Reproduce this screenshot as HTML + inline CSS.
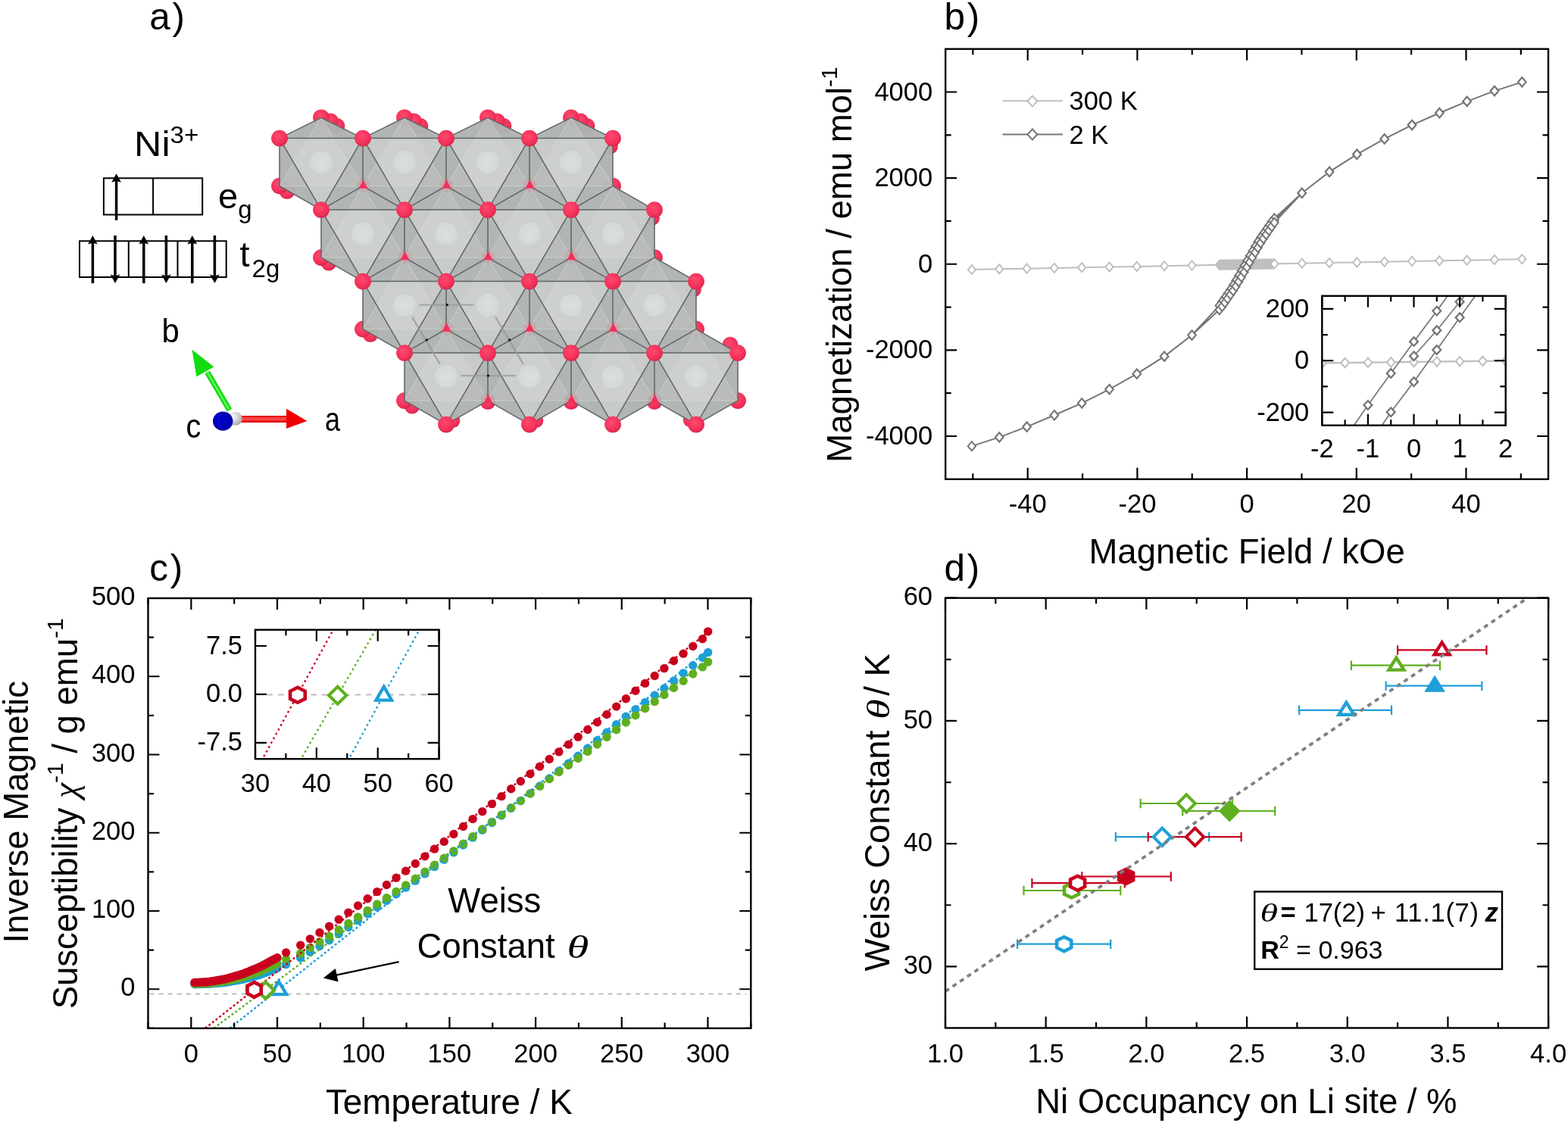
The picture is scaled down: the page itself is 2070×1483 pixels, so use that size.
<!DOCTYPE html><html><head><meta charset="utf-8"><style>html,body{margin:0;padding:0;background:#fff;}svg{display:block}</style></head><body>
<svg width="2070" height="1483" viewBox="0 0 2070 1483">
<rect width="2070" height="1483" fill="#fff"/>
<text x="197.3" y="39.2" font-size="49.5" style="font-family:'Liberation Sans',Arial,sans-serif">a<tspan dx="2.6">)</tspan></text>
<text x="1246.5" y="39.2" font-size="49.5" style="font-family:'Liberation Sans',Arial,sans-serif">b<tspan dx="2.6">)</tspan></text>
<text x="197.3" y="766.8" font-size="49.5" style="font-family:'Liberation Sans',Arial,sans-serif">c<tspan dx="2.6">)</tspan></text>
<text x="1246.5" y="766.8" font-size="49.5" style="font-family:'Liberation Sans',Arial,sans-serif">d<tspan dx="2.6">)</tspan></text>
<text transform="translate(177.1 205.8) scale(1.07 1)" font-size="47" style="font-family:'Liberation Sans',Arial,sans-serif">Ni<tspan font-size="31" dy="-17">3+</tspan></text>
<g stroke="#000" stroke-width="2" fill="none">
<rect x="136.9" y="235.3" width="130.3" height="48.2"/>
<path d="M202.1 235.3V283.5"/>
<rect x="105" y="318.3" width="193.7" height="47.7"/>
<path d="M169.8 318.3V366M234.5 318.3V366"/>
</g>
<path d="M153.6 238.8V290.8" stroke="#000" stroke-width="3.5"/>
<path d="M153.6 229.3L159.9 240.8L153.6 239L147.3 240.8Z" fill="#000"/>
<path d="M122.4 320.5V374.1" stroke="#000" stroke-width="3.5"/>
<path d="M122.4 311L128.7 322.5L122.4 320.7L116.1 322.5Z" fill="#000"/>
<path d="M189.8 320.5V374.1" stroke="#000" stroke-width="3.5"/>
<path d="M189.8 311L196.1 322.5L189.8 320.7L183.5 322.5Z" fill="#000"/>
<path d="M253.8 320.5V374.1" stroke="#000" stroke-width="3.5"/>
<path d="M253.8 311L260.1 322.5L253.8 320.7L247.5 322.5Z" fill="#000"/>
<path d="M152 364.6V311" stroke="#000" stroke-width="3.5"/>
<path d="M152 374.1L158.3 362.6L152 364.4L145.7 362.6Z" fill="#000"/>
<path d="M219.4 364.6V311" stroke="#000" stroke-width="3.5"/>
<path d="M219.4 374.1L225.7 362.6L219.4 364.4L213.1 362.6Z" fill="#000"/>
<path d="M283.4 364.6V311" stroke="#000" stroke-width="3.5"/>
<path d="M283.4 374.1L289.7 362.6L283.4 364.4L277.1 362.6Z" fill="#000"/>
<text x="288" y="275.4" font-size="47" style="font-family:'Liberation Sans',Arial,sans-serif">e<tspan font-size="33" dy="13">g</tspan></text>
<text x="316.5" y="352.3" font-size="47" style="font-family:'Liberation Sans',Arial,sans-serif">t<tspan font-size="33" dy="14" dx="3">2g</tspan></text>
<defs><linearGradient id="grG" x1="0" y1="0" x2="1" y2="0"><stop offset="0" stop-color="#10d010"/><stop offset="0.5" stop-color="#50ff50"/><stop offset="1" stop-color="#10d010"/></linearGradient><linearGradient id="grR" x1="0" y1="0" x2="0" y2="1"><stop offset="0" stop-color="#e00000"/><stop offset="0.45" stop-color="#ff5050"/><stop offset="1" stop-color="#e00000"/></linearGradient><radialGradient id="grW" cx="0.35" cy="0.35" r="0.7"><stop offset="0" stop-color="#ffffff"/><stop offset="1" stop-color="#a8a8a8"/></radialGradient><radialGradient id="grB" cx="0.4" cy="0.4" r="0.7"><stop offset="0" stop-color="#0000d0"/><stop offset="1" stop-color="#0000a0"/></radialGradient></defs>
<path d="M303 541.7L273.7 491.5" stroke="#18dd18" stroke-width="7.5"/>
<path d="M302.2 540.5L273.2 490.8" stroke="#66ff66" stroke-width="2"/>
<path d="M253.5 461.5L259.3 497.4L282.4 484.6Z" fill="#11dd11"/>
<rect x="316" y="549" width="63" height="9" fill="url(#grR)"/>
<path d="M378 539.8L405.4 556L378 565.9Z" fill="#ee0000"/>
<circle cx="310.9" cy="552.8" r="9" fill="url(#grW)"/>
<ellipse cx="294.2" cy="556.2" rx="13.2" ry="12.6" fill="url(#grB)"/>
<ellipse cx="297.5" cy="556.2" rx="9.5" ry="11.6" fill="none" stroke="#3030ff" stroke-width="0.8" opacity="0.6"/>
<text transform="translate(213.5 452.4) scale(0.93 1)" font-size="45" style="font-family:'Liberation Sans',Arial,sans-serif">b</text>
<text transform="translate(245.5 577.6) scale(0.88 1)" font-size="45" style="font-family:'Liberation Sans',Arial,sans-serif">c</text>
<text transform="translate(429 568.5) scale(0.8 1)" font-size="45" style="font-family:'Liberation Sans',Arial,sans-serif">a</text>
<defs><radialGradient id="gO" cx="0.42" cy="0.38" r="0.62"><stop offset="0" stop-color="#ff4a6e"/><stop offset="0.75" stop-color="#f2305a"/><stop offset="1" stop-color="#d8284e"/></radialGradient><radialGradient id="gNi" cx="0.5" cy="0.5" r="0.5"><stop offset="0" stop-color="#dcdfe0"/><stop offset="0.8" stop-color="#d6d9da"/><stop offset="1" stop-color="#c8cccc"/></radialGradient><radialGradient id="gPk" cx="0.5" cy="0.5" r="0.5"><stop offset="0" stop-color="#f03060" stop-opacity="0.25"/><stop offset="1" stop-color="#f03060" stop-opacity="0.08"/></radialGradient></defs>
<circle cx="445" cy="166.3" r="10.36" fill="url(#gO)" opacity="1"/>
<circle cx="436" cy="160.3" r="10.9" fill="url(#gO)" opacity="1"/>
<circle cx="555" cy="166.3" r="10.36" fill="url(#gO)" opacity="1"/>
<circle cx="546" cy="160.3" r="10.9" fill="url(#gO)" opacity="1"/>
<circle cx="665" cy="166.3" r="10.36" fill="url(#gO)" opacity="1"/>
<circle cx="656" cy="160.3" r="10.9" fill="url(#gO)" opacity="1"/>
<circle cx="775" cy="166.3" r="10.36" fill="url(#gO)" opacity="1"/>
<circle cx="766" cy="160.3" r="10.9" fill="url(#gO)" opacity="1"/>
<circle cx="379" cy="252.6" r="10.36" fill="url(#gO)" opacity="1"/>
<circle cx="434" cy="347.1" r="10.36" fill="url(#gO)" opacity="1"/>
<circle cx="489" cy="441.6" r="10.36" fill="url(#gO)" opacity="1"/>
<circle cx="544" cy="536.1" r="10.36" fill="url(#gO)" opacity="1"/>
<circle cx="806" cy="193.6" r="9.81" fill="url(#gO)" opacity="1"/>
<circle cx="861" cy="288.1" r="9.81" fill="url(#gO)" opacity="1"/>
<circle cx="916" cy="382.6" r="9.81" fill="url(#gO)" opacity="1"/>
<circle cx="964" cy="455.1" r="10.36" fill="url(#gO)" opacity="1"/>
<circle cx="598" cy="555.6" r="9.27" fill="url(#gO)" opacity="1"/>
<circle cx="708" cy="555.6" r="9.27" fill="url(#gO)" opacity="1"/>
<circle cx="911" cy="554.6" r="9.27" fill="url(#gO)" opacity="1"/>
<circle cx="644" cy="530.6" r="10.36" fill="url(#gO)" opacity="1"/>
<circle cx="754" cy="530.6" r="10.36" fill="url(#gO)" opacity="1"/>
<circle cx="864" cy="530.6" r="10.36" fill="url(#gO)" opacity="1"/>
<circle cx="424" cy="155.3" r="10.9" fill="url(#gO)" opacity="1"/>
<circle cx="534" cy="155.3" r="10.9" fill="url(#gO)" opacity="1"/>
<circle cx="644" cy="155.3" r="10.9" fill="url(#gO)" opacity="1"/>
<circle cx="754" cy="155.3" r="10.9" fill="url(#gO)" opacity="1"/>
<circle cx="369" cy="245.6" r="10.9" fill="url(#gO)" opacity="1"/>
<circle cx="809" cy="245.6" r="10.9" fill="url(#gO)" opacity="1"/>
<circle cx="424" cy="340.1" r="10.9" fill="url(#gO)" opacity="1"/>
<circle cx="864" cy="340.1" r="10.9" fill="url(#gO)" opacity="1"/>
<circle cx="479" cy="434.6" r="10.9" fill="url(#gO)" opacity="1"/>
<circle cx="919" cy="434.6" r="10.9" fill="url(#gO)" opacity="1"/>
<circle cx="534" cy="529.1" r="10.9" fill="url(#gO)" opacity="1"/>
<circle cx="974" cy="529.1" r="10.9" fill="url(#gO)" opacity="1"/>
<g>
<polygon points="424,155.3 479,182.6 479,245.6 424,277.1 369,245.6 369,182.6" fill="#aeb3b1" fill-opacity="0.97"/>
<polygon points="534,155.3 589,182.6 589,245.6 534,277.1 479,245.6 479,182.6" fill="#aeb3b1" fill-opacity="0.97"/>
<polygon points="644,155.3 699,182.6 699,245.6 644,277.1 589,245.6 589,182.6" fill="#aeb3b1" fill-opacity="0.97"/>
<polygon points="754,155.3 809,182.6 809,245.6 754,277.1 699,245.6 699,182.6" fill="#aeb3b1" fill-opacity="0.97"/>
<polygon points="479,245.6 534,277.1 534,340.1 479,371.6 424,340.1 424,277.1" fill="#aeb3b1" fill-opacity="0.97"/>
<polygon points="589,245.6 644,277.1 644,340.1 589,371.6 534,340.1 534,277.1" fill="#aeb3b1" fill-opacity="0.97"/>
<polygon points="699,245.6 754,277.1 754,340.1 699,371.6 644,340.1 644,277.1" fill="#aeb3b1" fill-opacity="0.97"/>
<polygon points="809,245.6 864,277.1 864,340.1 809,371.6 754,340.1 754,277.1" fill="#aeb3b1" fill-opacity="0.97"/>
<polygon points="534,340.1 589,371.6 589,434.6 534,466.1 479,434.6 479,371.6" fill="#aeb3b1" fill-opacity="0.97"/>
<polygon points="644,340.1 699,371.6 699,434.6 644,466.1 589,434.6 589,371.6" fill="#aeb3b1" fill-opacity="0.97"/>
<polygon points="754,340.1 809,371.6 809,434.6 754,466.1 699,434.6 699,371.6" fill="#aeb3b1" fill-opacity="0.97"/>
<polygon points="864,340.1 919,371.6 919,434.6 864,466.1 809,434.6 809,371.6" fill="#aeb3b1" fill-opacity="0.97"/>
<polygon points="589,434.6 644,466.1 644,529.1 589,560.6 534,529.1 534,466.1" fill="#aeb3b1" fill-opacity="0.97"/>
<polygon points="699,434.6 754,466.1 754,529.1 699,560.6 644,529.1 644,466.1" fill="#aeb3b1" fill-opacity="0.97"/>
<polygon points="809,434.6 864,466.1 864,529.1 809,560.6 754,529.1 754,466.1" fill="#aeb3b1" fill-opacity="0.97"/>
<polygon points="919,434.6 974,466.1 974,529.1 919,560.6 864,529.1 864,466.1" fill="#aeb3b1" fill-opacity="0.97"/>
</g>
<polygon points="424,155.3 369,245.6 479,245.6" fill="#ffffff" fill-opacity="0.10"/>
<polygon points="534,155.3 479,245.6 589,245.6" fill="#ffffff" fill-opacity="0.10"/>
<polygon points="644,155.3 589,245.6 699,245.6" fill="#ffffff" fill-opacity="0.10"/>
<polygon points="754,155.3 699,245.6 809,245.6" fill="#ffffff" fill-opacity="0.10"/>
<polygon points="479,245.6 424,340.1 534,340.1" fill="#ffffff" fill-opacity="0.10"/>
<polygon points="589,245.6 534,340.1 644,340.1" fill="#ffffff" fill-opacity="0.10"/>
<polygon points="699,245.6 644,340.1 754,340.1" fill="#ffffff" fill-opacity="0.10"/>
<polygon points="809,245.6 754,340.1 864,340.1" fill="#ffffff" fill-opacity="0.10"/>
<polygon points="534,340.1 479,434.6 589,434.6" fill="#ffffff" fill-opacity="0.10"/>
<polygon points="644,340.1 589,434.6 699,434.6" fill="#ffffff" fill-opacity="0.10"/>
<polygon points="754,340.1 699,434.6 809,434.6" fill="#ffffff" fill-opacity="0.10"/>
<polygon points="864,340.1 809,434.6 919,434.6" fill="#ffffff" fill-opacity="0.10"/>
<polygon points="589,434.6 534,529.1 644,529.1" fill="#ffffff" fill-opacity="0.10"/>
<polygon points="699,434.6 644,529.1 754,529.1" fill="#ffffff" fill-opacity="0.10"/>
<polygon points="809,434.6 754,529.1 864,529.1" fill="#ffffff" fill-opacity="0.10"/>
<polygon points="919,434.6 864,529.1 974,529.1" fill="#ffffff" fill-opacity="0.10"/>
<polygon points="369,182.6 479,182.6 424,277.1" fill="#ffffff" fill-opacity="0.30"/>
<polygon points="479,182.6 589,182.6 534,277.1" fill="#ffffff" fill-opacity="0.30"/>
<polygon points="589,182.6 699,182.6 644,277.1" fill="#ffffff" fill-opacity="0.30"/>
<polygon points="699,182.6 809,182.6 754,277.1" fill="#ffffff" fill-opacity="0.30"/>
<polygon points="424,277.1 534,277.1 479,371.6" fill="#ffffff" fill-opacity="0.30"/>
<polygon points="534,277.1 644,277.1 589,371.6" fill="#ffffff" fill-opacity="0.30"/>
<polygon points="644,277.1 754,277.1 699,371.6" fill="#ffffff" fill-opacity="0.30"/>
<polygon points="754,277.1 864,277.1 809,371.6" fill="#ffffff" fill-opacity="0.30"/>
<polygon points="479,371.6 589,371.6 534,466.1" fill="#ffffff" fill-opacity="0.30"/>
<polygon points="589,371.6 699,371.6 644,466.1" fill="#ffffff" fill-opacity="0.30"/>
<polygon points="699,371.6 809,371.6 754,466.1" fill="#ffffff" fill-opacity="0.30"/>
<polygon points="809,371.6 919,371.6 864,466.1" fill="#ffffff" fill-opacity="0.30"/>
<polygon points="534,466.1 644,466.1 589,560.6" fill="#ffffff" fill-opacity="0.30"/>
<polygon points="644,466.1 754,466.1 699,560.6" fill="#ffffff" fill-opacity="0.30"/>
<polygon points="754,466.1 864,466.1 809,560.6" fill="#ffffff" fill-opacity="0.30"/>
<polygon points="864,466.1 974,466.1 919,560.6" fill="#ffffff" fill-opacity="0.30"/>
<circle cx="424" cy="214.1" r="17" fill="url(#gNi)"/>
<circle cx="534" cy="214.1" r="17" fill="url(#gNi)"/>
<circle cx="644" cy="214.1" r="17" fill="url(#gNi)"/>
<circle cx="754" cy="214.1" r="17" fill="url(#gNi)"/>
<circle cx="479" cy="308.6" r="17" fill="url(#gNi)"/>
<circle cx="589" cy="308.6" r="17" fill="url(#gNi)"/>
<circle cx="699" cy="308.6" r="17" fill="url(#gNi)"/>
<circle cx="809" cy="308.6" r="17" fill="url(#gNi)"/>
<circle cx="534" cy="403.1" r="17" fill="url(#gNi)"/>
<circle cx="644" cy="403.1" r="17" fill="url(#gNi)"/>
<circle cx="754" cy="403.1" r="17" fill="url(#gNi)"/>
<circle cx="864" cy="403.1" r="17" fill="url(#gNi)"/>
<circle cx="589" cy="497.6" r="17" fill="url(#gNi)"/>
<circle cx="699" cy="497.6" r="17" fill="url(#gNi)"/>
<circle cx="809" cy="497.6" r="17" fill="url(#gNi)"/>
<circle cx="919" cy="497.6" r="17" fill="url(#gNi)"/>
<path d="M424 155.3L369 245.6L479 245.6ZM534 155.3L479 245.6L589 245.6ZM644 155.3L589 245.6L699 245.6ZM754 155.3L699 245.6L809 245.6ZM479 245.6L424 340.1L534 340.1ZM589 245.6L534 340.1L644 340.1ZM699 245.6L644 340.1L754 340.1ZM809 245.6L754 340.1L864 340.1ZM534 340.1L479 434.6L589 434.6ZM644 340.1L589 434.6L699 434.6ZM754 340.1L699 434.6L809 434.6ZM864 340.1L809 434.6L919 434.6ZM589 434.6L534 529.1L644 529.1ZM699 434.6L644 529.1L754 529.1ZM809 434.6L754 529.1L864 529.1ZM919 434.6L864 529.1L974 529.1Z" fill="none" stroke="#d2dad5" stroke-width="1.2" stroke-opacity="0.55"/>
<path d="M424 155.3L479 182.6L479 245.6L424 277.1L369 245.6L369 182.6ZM369 182.6L479 182.6L424 277.1ZM534 155.3L589 182.6L589 245.6L534 277.1L479 245.6L479 182.6ZM479 182.6L589 182.6L534 277.1ZM644 155.3L699 182.6L699 245.6L644 277.1L589 245.6L589 182.6ZM589 182.6L699 182.6L644 277.1ZM754 155.3L809 182.6L809 245.6L754 277.1L699 245.6L699 182.6ZM699 182.6L809 182.6L754 277.1ZM479 245.6L534 277.1L534 340.1L479 371.6L424 340.1L424 277.1ZM424 277.1L534 277.1L479 371.6ZM589 245.6L644 277.1L644 340.1L589 371.6L534 340.1L534 277.1ZM534 277.1L644 277.1L589 371.6ZM699 245.6L754 277.1L754 340.1L699 371.6L644 340.1L644 277.1ZM644 277.1L754 277.1L699 371.6ZM809 245.6L864 277.1L864 340.1L809 371.6L754 340.1L754 277.1ZM754 277.1L864 277.1L809 371.6ZM534 340.1L589 371.6L589 434.6L534 466.1L479 434.6L479 371.6ZM479 371.6L589 371.6L534 466.1ZM644 340.1L699 371.6L699 434.6L644 466.1L589 434.6L589 371.6ZM589 371.6L699 371.6L644 466.1ZM754 340.1L809 371.6L809 434.6L754 466.1L699 434.6L699 371.6ZM699 371.6L809 371.6L754 466.1ZM864 340.1L919 371.6L919 434.6L864 466.1L809 434.6L809 371.6ZM809 371.6L919 371.6L864 466.1ZM589 434.6L644 466.1L644 529.1L589 560.6L534 529.1L534 466.1ZM534 466.1L644 466.1L589 560.6ZM699 434.6L754 466.1L754 529.1L699 560.6L644 529.1L644 466.1ZM644 466.1L754 466.1L699 560.6ZM809 434.6L864 466.1L864 529.1L809 560.6L754 529.1L754 466.1ZM754 466.1L864 466.1L809 560.6ZM919 434.6L974 466.1L974 529.1L919 560.6L864 529.1L864 466.1ZM864 466.1L974 466.1L919 560.6Z" fill="none" stroke="#5f6464" stroke-width="1.5" stroke-linejoin="round"/>
<circle cx="479.5" cy="244.6" r="9.6" fill="url(#gPk)"/>
<path d="M479.5 237.6L485.3 248.8L473.7 248.8Z" fill="#f3305a"/>
<circle cx="534.5" cy="339.1" r="9.6" fill="url(#gPk)"/>
<path d="M534.5 332.1L540.3 343.3L528.7 343.3Z" fill="#f3305a"/>
<circle cx="589.5" cy="244.6" r="9.6" fill="url(#gPk)"/>
<path d="M589.5 237.6L595.3 248.8L583.7 248.8Z" fill="#f3305a"/>
<circle cx="589.5" cy="433.6" r="9.6" fill="url(#gPk)"/>
<path d="M589.5 426.6L595.3 437.8L583.7 437.8Z" fill="#f3305a"/>
<circle cx="644.5" cy="339.1" r="9.6" fill="url(#gPk)"/>
<path d="M644.5 332.1L650.3 343.3L638.7 343.3Z" fill="#f3305a"/>
<circle cx="644.5" cy="528.1" r="9.6" fill="url(#gPk)"/>
<path d="M644.5 521.1L650.3 532.3L638.7 532.3Z" fill="#f3305a"/>
<circle cx="699.5" cy="244.6" r="9.6" fill="url(#gPk)"/>
<path d="M699.5 237.6L705.3 248.8L693.7 248.8Z" fill="#f3305a"/>
<circle cx="699.5" cy="433.6" r="9.6" fill="url(#gPk)"/>
<path d="M699.5 426.6L705.3 437.8L693.7 437.8Z" fill="#f3305a"/>
<circle cx="754.5" cy="339.1" r="9.6" fill="url(#gPk)"/>
<path d="M754.5 332.1L760.3 343.3L748.7 343.3Z" fill="#f3305a"/>
<circle cx="754.5" cy="528.1" r="9.6" fill="url(#gPk)"/>
<path d="M754.5 521.1L760.3 532.3L748.7 532.3Z" fill="#f3305a"/>
<circle cx="809.5" cy="433.6" r="9.6" fill="url(#gPk)"/>
<path d="M809.5 426.6L815.3 437.8L803.7 437.8Z" fill="#f3305a"/>
<circle cx="864.5" cy="528.1" r="9.6" fill="url(#gPk)"/>
<path d="M864.5 521.1L870.3 532.3L858.7 532.3Z" fill="#f3305a"/>
<g stroke="#999" stroke-width="2.4" stroke-opacity="0.75">
<path d="M553.6 402.6H625.4M544.1 418.6L580.7 480.8M654.1 418.6L690.8 480.8M608.8 496.1H680.6"/>
</g>
<circle cx="590.3" cy="402.6" r="1.6" fill="#000"/>
<circle cx="563.2" cy="448.9" r="1.6" fill="#000"/>
<circle cx="672.6" cy="448.9" r="1.6" fill="#000"/>
<circle cx="644.5" cy="496.1" r="1.6" fill="#000"/>
<circle cx="369" cy="182.6" r="10.9" fill="url(#gO)" opacity="1"/>
<circle cx="479" cy="182.6" r="10.9" fill="url(#gO)" opacity="1"/>
<circle cx="589" cy="182.6" r="10.9" fill="url(#gO)" opacity="1"/>
<circle cx="699" cy="182.6" r="10.9" fill="url(#gO)" opacity="1"/>
<circle cx="809" cy="182.6" r="10.9" fill="url(#gO)" opacity="1"/>
<circle cx="424" cy="277.1" r="10.9" fill="url(#gO)" opacity="1"/>
<circle cx="534" cy="277.1" r="10.9" fill="url(#gO)" opacity="1"/>
<circle cx="644" cy="277.1" r="10.9" fill="url(#gO)" opacity="1"/>
<circle cx="754" cy="277.1" r="10.9" fill="url(#gO)" opacity="1"/>
<circle cx="864" cy="277.1" r="10.9" fill="url(#gO)" opacity="1"/>
<circle cx="479" cy="371.6" r="10.9" fill="url(#gO)" opacity="1"/>
<circle cx="589" cy="371.6" r="10.9" fill="url(#gO)" opacity="1"/>
<circle cx="699" cy="371.6" r="10.9" fill="url(#gO)" opacity="1"/>
<circle cx="809" cy="371.6" r="10.9" fill="url(#gO)" opacity="1"/>
<circle cx="919" cy="371.6" r="10.9" fill="url(#gO)" opacity="1"/>
<circle cx="534" cy="466.1" r="10.9" fill="url(#gO)" opacity="1"/>
<circle cx="644" cy="466.1" r="10.9" fill="url(#gO)" opacity="1"/>
<circle cx="754" cy="466.1" r="10.9" fill="url(#gO)" opacity="1"/>
<circle cx="864" cy="466.1" r="10.9" fill="url(#gO)" opacity="1"/>
<circle cx="974" cy="466.1" r="10.9" fill="url(#gO)" opacity="1"/>
<circle cx="589" cy="560.6" r="10.9" fill="url(#gO)" opacity="1"/>
<circle cx="699" cy="560.6" r="10.9" fill="url(#gO)" opacity="1"/>
<circle cx="809" cy="560.6" r="10.9" fill="url(#gO)" opacity="1"/>
<circle cx="919" cy="560.6" r="10.9" fill="url(#gO)" opacity="1"/>
<g>
<path d="M1282.93 356.02 L1319.24 355.33 L1355.56 354.65 L1391.88 353.96 L1428.2 353.27 L1464.51 352.58 L1500.83 351.9 L1537.15 351.21 L1573.47 350.52 L1609.78 349.84 L1611.6 349.8 L1613.41 349.77 L1615.23 349.73 L1617.05 349.7 L1618.86 349.66 L1620.68 349.63 L1622.49 349.59 L1624.31 349.56 L1626.13 349.53 L1627.94 349.49 L1629.76 349.46 L1631.57 349.42 L1633.39 349.39 L1635.2 349.35 L1637.02 349.32 L1638.84 349.29 L1640.65 349.25 L1642.47 349.22 L1644.28 349.18 L1646.1 349.15 L1647.92 349.11 L1649.73 349.08 L1651.55 349.04 L1653.36 349.01 L1655.18 348.98 L1657 348.94 L1658.81 348.91 L1660.63 348.87 L1662.44 348.84 L1664.26 348.8 L1666.07 348.77 L1667.89 348.74 L1669.71 348.7 L1671.52 348.67 L1673.34 348.63 L1675.15 348.6 L1676.97 348.56 L1678.79 348.53 L1680.6 348.49 L1682.42 348.46 L1718.73 347.77 L1755.05 347.09 L1791.37 346.4 L1827.69 345.71 L1864 345.02 L1900.32 344.34 L1936.64 343.65 L1972.96 342.96 L2009.27 342.27" fill="none" stroke="#bebebe" stroke-width="2" stroke-linejoin="round"/>
<path d="M1282.93 349.92L1288.03 356.02L1282.93 362.12L1277.83 356.02Z" fill="#fff" stroke="#bebebe" stroke-width="1.9" stroke-linejoin="miter"/>
<path d="M1319.24 349.23L1324.34 355.33L1319.24 361.43L1314.14 355.33Z" fill="#fff" stroke="#bebebe" stroke-width="1.9" stroke-linejoin="miter"/>
<path d="M1355.56 348.55L1360.66 354.65L1355.56 360.75L1350.46 354.65Z" fill="#fff" stroke="#bebebe" stroke-width="1.9" stroke-linejoin="miter"/>
<path d="M1391.88 347.86L1396.98 353.96L1391.88 360.06L1386.78 353.96Z" fill="#fff" stroke="#bebebe" stroke-width="1.9" stroke-linejoin="miter"/>
<path d="M1428.2 347.17L1433.3 353.27L1428.2 359.37L1423.1 353.27Z" fill="#fff" stroke="#bebebe" stroke-width="1.9" stroke-linejoin="miter"/>
<path d="M1464.51 346.48L1469.61 352.58L1464.51 358.68L1459.41 352.58Z" fill="#fff" stroke="#bebebe" stroke-width="1.9" stroke-linejoin="miter"/>
<path d="M1500.83 345.8L1505.93 351.9L1500.83 358L1495.73 351.9Z" fill="#fff" stroke="#bebebe" stroke-width="1.9" stroke-linejoin="miter"/>
<path d="M1537.15 345.11L1542.25 351.21L1537.15 357.31L1532.05 351.21Z" fill="#fff" stroke="#bebebe" stroke-width="1.9" stroke-linejoin="miter"/>
<path d="M1573.47 344.42L1578.57 350.52L1573.47 356.62L1568.37 350.52Z" fill="#fff" stroke="#bebebe" stroke-width="1.9" stroke-linejoin="miter"/>
<path d="M1609.78 343.74L1614.88 349.84L1609.78 355.94L1604.68 349.84Z" fill="#fff" stroke="#bebebe" stroke-width="1.9" stroke-linejoin="miter"/>
<path d="M1611.6 343.7L1616.7 349.8L1611.6 355.9L1606.5 349.8Z" fill="#fff" stroke="#bebebe" stroke-width="1.9" stroke-linejoin="miter"/>
<path d="M1613.41 343.67L1618.51 349.77L1613.41 355.87L1608.31 349.77Z" fill="#fff" stroke="#bebebe" stroke-width="1.9" stroke-linejoin="miter"/>
<path d="M1615.23 343.63L1620.33 349.73L1615.23 355.83L1610.13 349.73Z" fill="#fff" stroke="#bebebe" stroke-width="1.9" stroke-linejoin="miter"/>
<path d="M1617.05 343.6L1622.15 349.7L1617.05 355.8L1611.95 349.7Z" fill="#fff" stroke="#bebebe" stroke-width="1.9" stroke-linejoin="miter"/>
<path d="M1618.86 343.56L1623.96 349.66L1618.86 355.76L1613.76 349.66Z" fill="#fff" stroke="#bebebe" stroke-width="1.9" stroke-linejoin="miter"/>
<path d="M1620.68 343.53L1625.78 349.63L1620.68 355.73L1615.58 349.63Z" fill="#fff" stroke="#bebebe" stroke-width="1.9" stroke-linejoin="miter"/>
<path d="M1622.49 343.49L1627.59 349.59L1622.49 355.69L1617.39 349.59Z" fill="#fff" stroke="#bebebe" stroke-width="1.9" stroke-linejoin="miter"/>
<path d="M1624.31 343.46L1629.41 349.56L1624.31 355.66L1619.21 349.56Z" fill="#fff" stroke="#bebebe" stroke-width="1.9" stroke-linejoin="miter"/>
<path d="M1626.13 343.43L1631.23 349.53L1626.13 355.63L1621.03 349.53Z" fill="#fff" stroke="#bebebe" stroke-width="1.9" stroke-linejoin="miter"/>
<path d="M1627.94 343.39L1633.04 349.49L1627.94 355.59L1622.84 349.49Z" fill="#fff" stroke="#bebebe" stroke-width="1.9" stroke-linejoin="miter"/>
<path d="M1629.76 343.36L1634.86 349.46L1629.76 355.56L1624.66 349.46Z" fill="#fff" stroke="#bebebe" stroke-width="1.9" stroke-linejoin="miter"/>
<path d="M1631.57 343.32L1636.67 349.42L1631.57 355.52L1626.47 349.42Z" fill="#fff" stroke="#bebebe" stroke-width="1.9" stroke-linejoin="miter"/>
<path d="M1633.39 343.29L1638.49 349.39L1633.39 355.49L1628.29 349.39Z" fill="#fff" stroke="#bebebe" stroke-width="1.9" stroke-linejoin="miter"/>
<path d="M1635.2 343.25L1640.3 349.35L1635.2 355.45L1630.1 349.35Z" fill="#fff" stroke="#bebebe" stroke-width="1.9" stroke-linejoin="miter"/>
<path d="M1637.02 343.22L1642.12 349.32L1637.02 355.42L1631.92 349.32Z" fill="#fff" stroke="#bebebe" stroke-width="1.9" stroke-linejoin="miter"/>
<path d="M1638.84 343.19L1643.94 349.29L1638.84 355.39L1633.74 349.29Z" fill="#fff" stroke="#bebebe" stroke-width="1.9" stroke-linejoin="miter"/>
<path d="M1640.65 343.15L1645.75 349.25L1640.65 355.35L1635.55 349.25Z" fill="#fff" stroke="#bebebe" stroke-width="1.9" stroke-linejoin="miter"/>
<path d="M1642.47 343.12L1647.57 349.22L1642.47 355.32L1637.37 349.22Z" fill="#fff" stroke="#bebebe" stroke-width="1.9" stroke-linejoin="miter"/>
<path d="M1644.28 343.08L1649.38 349.18L1644.28 355.28L1639.18 349.18Z" fill="#fff" stroke="#bebebe" stroke-width="1.9" stroke-linejoin="miter"/>
<path d="M1646.1 343.05L1651.2 349.15L1646.1 355.25L1641 349.15Z" fill="#fff" stroke="#bebebe" stroke-width="1.9" stroke-linejoin="miter"/>
<path d="M1647.92 343.01L1653.02 349.11L1647.92 355.21L1642.82 349.11Z" fill="#fff" stroke="#bebebe" stroke-width="1.9" stroke-linejoin="miter"/>
<path d="M1649.73 342.98L1654.83 349.08L1649.73 355.18L1644.63 349.08Z" fill="#fff" stroke="#bebebe" stroke-width="1.9" stroke-linejoin="miter"/>
<path d="M1651.55 342.94L1656.65 349.04L1651.55 355.14L1646.45 349.04Z" fill="#fff" stroke="#bebebe" stroke-width="1.9" stroke-linejoin="miter"/>
<path d="M1653.36 342.91L1658.46 349.01L1653.36 355.11L1648.26 349.01Z" fill="#fff" stroke="#bebebe" stroke-width="1.9" stroke-linejoin="miter"/>
<path d="M1655.18 342.88L1660.28 348.98L1655.18 355.08L1650.08 348.98Z" fill="#fff" stroke="#bebebe" stroke-width="1.9" stroke-linejoin="miter"/>
<path d="M1657 342.84L1662.1 348.94L1657 355.04L1651.9 348.94Z" fill="#fff" stroke="#bebebe" stroke-width="1.9" stroke-linejoin="miter"/>
<path d="M1658.81 342.81L1663.91 348.91L1658.81 355.01L1653.71 348.91Z" fill="#fff" stroke="#bebebe" stroke-width="1.9" stroke-linejoin="miter"/>
<path d="M1660.63 342.77L1665.73 348.87L1660.63 354.97L1655.53 348.87Z" fill="#fff" stroke="#bebebe" stroke-width="1.9" stroke-linejoin="miter"/>
<path d="M1662.44 342.74L1667.54 348.84L1662.44 354.94L1657.34 348.84Z" fill="#fff" stroke="#bebebe" stroke-width="1.9" stroke-linejoin="miter"/>
<path d="M1664.26 342.7L1669.36 348.8L1664.26 354.9L1659.16 348.8Z" fill="#fff" stroke="#bebebe" stroke-width="1.9" stroke-linejoin="miter"/>
<path d="M1666.07 342.67L1671.17 348.77L1666.07 354.87L1660.97 348.77Z" fill="#fff" stroke="#bebebe" stroke-width="1.9" stroke-linejoin="miter"/>
<path d="M1667.89 342.64L1672.99 348.74L1667.89 354.84L1662.79 348.74Z" fill="#fff" stroke="#bebebe" stroke-width="1.9" stroke-linejoin="miter"/>
<path d="M1669.71 342.6L1674.81 348.7L1669.71 354.8L1664.61 348.7Z" fill="#fff" stroke="#bebebe" stroke-width="1.9" stroke-linejoin="miter"/>
<path d="M1671.52 342.57L1676.62 348.67L1671.52 354.77L1666.42 348.67Z" fill="#fff" stroke="#bebebe" stroke-width="1.9" stroke-linejoin="miter"/>
<path d="M1673.34 342.53L1678.44 348.63L1673.34 354.73L1668.24 348.63Z" fill="#fff" stroke="#bebebe" stroke-width="1.9" stroke-linejoin="miter"/>
<path d="M1675.15 342.5L1680.25 348.6L1675.15 354.7L1670.05 348.6Z" fill="#fff" stroke="#bebebe" stroke-width="1.9" stroke-linejoin="miter"/>
<path d="M1676.97 342.46L1682.07 348.56L1676.97 354.66L1671.87 348.56Z" fill="#fff" stroke="#bebebe" stroke-width="1.9" stroke-linejoin="miter"/>
<path d="M1678.79 342.43L1683.89 348.53L1678.79 354.63L1673.69 348.53Z" fill="#fff" stroke="#bebebe" stroke-width="1.9" stroke-linejoin="miter"/>
<path d="M1680.6 342.39L1685.7 348.49L1680.6 354.59L1675.5 348.49Z" fill="#fff" stroke="#bebebe" stroke-width="1.9" stroke-linejoin="miter"/>
<path d="M1682.42 342.36L1687.52 348.46L1682.42 354.56L1677.32 348.46Z" fill="#fff" stroke="#bebebe" stroke-width="1.9" stroke-linejoin="miter"/>
<path d="M1718.73 341.67L1723.83 347.77L1718.73 353.87L1713.63 347.77Z" fill="#fff" stroke="#bebebe" stroke-width="1.9" stroke-linejoin="miter"/>
<path d="M1755.05 340.99L1760.15 347.09L1755.05 353.19L1749.95 347.09Z" fill="#fff" stroke="#bebebe" stroke-width="1.9" stroke-linejoin="miter"/>
<path d="M1791.37 340.3L1796.47 346.4L1791.37 352.5L1786.27 346.4Z" fill="#fff" stroke="#bebebe" stroke-width="1.9" stroke-linejoin="miter"/>
<path d="M1827.69 339.61L1832.79 345.71L1827.69 351.81L1822.59 345.71Z" fill="#fff" stroke="#bebebe" stroke-width="1.9" stroke-linejoin="miter"/>
<path d="M1864 338.92L1869.1 345.02L1864 351.12L1858.9 345.02Z" fill="#fff" stroke="#bebebe" stroke-width="1.9" stroke-linejoin="miter"/>
<path d="M1900.32 338.24L1905.42 344.34L1900.32 350.44L1895.22 344.34Z" fill="#fff" stroke="#bebebe" stroke-width="1.9" stroke-linejoin="miter"/>
<path d="M1936.64 337.55L1941.74 343.65L1936.64 349.75L1931.54 343.65Z" fill="#fff" stroke="#bebebe" stroke-width="1.9" stroke-linejoin="miter"/>
<path d="M1972.96 336.86L1978.06 342.96L1972.96 349.06L1967.86 342.96Z" fill="#fff" stroke="#bebebe" stroke-width="1.9" stroke-linejoin="miter"/>
<path d="M2009.27 336.17L2014.37 342.27L2009.27 348.37L2004.17 342.27Z" fill="#fff" stroke="#bebebe" stroke-width="1.9" stroke-linejoin="miter"/>
</g>
<g>
<path d="M1646.1 347.9 L1649.73 341.67 L1653.36 335.35 L1657 329.32 L1660.63 323.2 L1664.26 317.01 L1667.89 311.69 L1671.52 306.44 L1675.15 301.19 L1678.79 295.94 L1682.42 290.69 L1718.73 254.96 L1755.05 226.84 L1791.37 203.83 L1827.69 183.43 L1864 165.08 L1900.32 149.23 L1936.64 133.89 L1972.96 120.09 L2009.27 108.33 L1972.96 120.09 L1936.64 133.89 L1900.32 149.23 L1864 165.08 L1827.69 183.43 L1791.37 203.83 L1755.05 226.84 L1718.73 254.96 L1682.42 288.47 L1678.79 292.68 L1675.15 297.93 L1671.52 303.18 L1667.89 308.43 L1664.26 313.68 L1660.63 319.3 L1657 325.51 L1653.36 331.72 L1649.73 338.07 L1646.1 344.66 L1642.47 351.25 L1638.84 357.84 L1635.2 364.29 L1631.57 370.5 L1627.94 376.71 L1624.31 382.56 L1620.68 387.81 L1617.05 393.06 L1613.41 398.31 L1609.78 403.56 L1573.47 442.54 L1537.15 470.66 L1500.83 493.67 L1464.51 514.07 L1428.2 532.42 L1391.88 548.27 L1355.56 563.61 L1319.24 577.41 L1282.93 589.17 L1319.24 577.41 L1355.56 563.61 L1391.88 548.27 L1428.2 532.42 L1464.51 514.07 L1500.83 493.67 L1537.15 470.66 L1573.47 442.54 L1609.78 409.03 L1613.41 404.82 L1617.05 399.57 L1620.68 394.32 L1624.31 389.07 L1627.94 383.82 L1631.57 378.2 L1635.2 371.99 L1638.84 365.78 L1642.47 359.43 L1646.1 352.84 L1649.73 346.25 L1653.36 339.66 L1657 333.21 L1660.63 327 L1664.26 320.79 L1667.89 314.94 L1671.52 309.69 L1675.15 304.44 L1678.79 299.19 L1682.42 293.94 L1718.73 254.96 L1755.05 226.84 L1791.37 203.83 L1827.69 183.43 L1864 165.08 L1900.32 149.23 L1936.64 133.89 L1972.96 120.09 L2009.27 108.33" fill="none" stroke="#767676" stroke-width="2" stroke-linejoin="round"/>
<path d="M1646.1 341.8L1651.3 347.9L1646.1 354L1640.9 347.9Z" fill="#fff" stroke="#767676" stroke-width="2" stroke-linejoin="miter"/>
<path d="M1649.73 335.57L1654.93 341.67L1649.73 347.77L1644.53 341.67Z" fill="#fff" stroke="#767676" stroke-width="2" stroke-linejoin="miter"/>
<path d="M1653.36 329.25L1658.56 335.35L1653.36 341.45L1648.16 335.35Z" fill="#fff" stroke="#767676" stroke-width="2" stroke-linejoin="miter"/>
<path d="M1657 323.22L1662.2 329.32L1657 335.42L1651.8 329.32Z" fill="#fff" stroke="#767676" stroke-width="2" stroke-linejoin="miter"/>
<path d="M1660.63 317.1L1665.83 323.2L1660.63 329.3L1655.43 323.2Z" fill="#fff" stroke="#767676" stroke-width="2" stroke-linejoin="miter"/>
<path d="M1664.26 310.91L1669.46 317.01L1664.26 323.11L1659.06 317.01Z" fill="#fff" stroke="#767676" stroke-width="2" stroke-linejoin="miter"/>
<path d="M1667.89 305.59L1673.09 311.69L1667.89 317.79L1662.69 311.69Z" fill="#fff" stroke="#767676" stroke-width="2" stroke-linejoin="miter"/>
<path d="M1671.52 300.34L1676.72 306.44L1671.52 312.54L1666.32 306.44Z" fill="#fff" stroke="#767676" stroke-width="2" stroke-linejoin="miter"/>
<path d="M1675.15 295.09L1680.35 301.19L1675.15 307.29L1669.95 301.19Z" fill="#fff" stroke="#767676" stroke-width="2" stroke-linejoin="miter"/>
<path d="M1678.79 289.84L1683.99 295.94L1678.79 302.04L1673.59 295.94Z" fill="#fff" stroke="#767676" stroke-width="2" stroke-linejoin="miter"/>
<path d="M1682.42 284.59L1687.62 290.69L1682.42 296.79L1677.22 290.69Z" fill="#fff" stroke="#767676" stroke-width="2" stroke-linejoin="miter"/>
<path d="M1718.73 248.86L1723.93 254.96L1718.73 261.06L1713.53 254.96Z" fill="#fff" stroke="#767676" stroke-width="2" stroke-linejoin="miter"/>
<path d="M1755.05 220.74L1760.25 226.84L1755.05 232.94L1749.85 226.84Z" fill="#fff" stroke="#767676" stroke-width="2" stroke-linejoin="miter"/>
<path d="M1791.37 197.73L1796.57 203.83L1791.37 209.93L1786.17 203.83Z" fill="#fff" stroke="#767676" stroke-width="2" stroke-linejoin="miter"/>
<path d="M1827.69 177.33L1832.89 183.43L1827.69 189.53L1822.49 183.43Z" fill="#fff" stroke="#767676" stroke-width="2" stroke-linejoin="miter"/>
<path d="M1864 158.98L1869.2 165.08L1864 171.18L1858.8 165.08Z" fill="#fff" stroke="#767676" stroke-width="2" stroke-linejoin="miter"/>
<path d="M1900.32 143.13L1905.52 149.23L1900.32 155.33L1895.12 149.23Z" fill="#fff" stroke="#767676" stroke-width="2" stroke-linejoin="miter"/>
<path d="M1936.64 127.79L1941.84 133.89L1936.64 139.99L1931.44 133.89Z" fill="#fff" stroke="#767676" stroke-width="2" stroke-linejoin="miter"/>
<path d="M1972.96 113.99L1978.16 120.09L1972.96 126.19L1967.76 120.09Z" fill="#fff" stroke="#767676" stroke-width="2" stroke-linejoin="miter"/>
<path d="M2009.27 102.23L2014.47 108.33L2009.27 114.43L2004.07 108.33Z" fill="#fff" stroke="#767676" stroke-width="2" stroke-linejoin="miter"/>
<path d="M1972.96 113.99L1978.16 120.09L1972.96 126.19L1967.76 120.09Z" fill="#fff" stroke="#767676" stroke-width="2" stroke-linejoin="miter"/>
<path d="M1936.64 127.79L1941.84 133.89L1936.64 139.99L1931.44 133.89Z" fill="#fff" stroke="#767676" stroke-width="2" stroke-linejoin="miter"/>
<path d="M1900.32 143.13L1905.52 149.23L1900.32 155.33L1895.12 149.23Z" fill="#fff" stroke="#767676" stroke-width="2" stroke-linejoin="miter"/>
<path d="M1864 158.98L1869.2 165.08L1864 171.18L1858.8 165.08Z" fill="#fff" stroke="#767676" stroke-width="2" stroke-linejoin="miter"/>
<path d="M1827.69 177.33L1832.89 183.43L1827.69 189.53L1822.49 183.43Z" fill="#fff" stroke="#767676" stroke-width="2" stroke-linejoin="miter"/>
<path d="M1791.37 197.73L1796.57 203.83L1791.37 209.93L1786.17 203.83Z" fill="#fff" stroke="#767676" stroke-width="2" stroke-linejoin="miter"/>
<path d="M1755.05 220.74L1760.25 226.84L1755.05 232.94L1749.85 226.84Z" fill="#fff" stroke="#767676" stroke-width="2" stroke-linejoin="miter"/>
<path d="M1718.73 248.86L1723.93 254.96L1718.73 261.06L1713.53 254.96Z" fill="#fff" stroke="#767676" stroke-width="2" stroke-linejoin="miter"/>
<path d="M1682.42 282.37L1687.62 288.47L1682.42 294.57L1677.22 288.47Z" fill="#fff" stroke="#767676" stroke-width="2" stroke-linejoin="miter"/>
<path d="M1678.79 286.58L1683.99 292.68L1678.79 298.78L1673.59 292.68Z" fill="#fff" stroke="#767676" stroke-width="2" stroke-linejoin="miter"/>
<path d="M1675.15 291.83L1680.35 297.93L1675.15 304.03L1669.95 297.93Z" fill="#fff" stroke="#767676" stroke-width="2" stroke-linejoin="miter"/>
<path d="M1671.52 297.08L1676.72 303.18L1671.52 309.28L1666.32 303.18Z" fill="#fff" stroke="#767676" stroke-width="2" stroke-linejoin="miter"/>
<path d="M1667.89 302.33L1673.09 308.43L1667.89 314.53L1662.69 308.43Z" fill="#fff" stroke="#767676" stroke-width="2" stroke-linejoin="miter"/>
<path d="M1664.26 307.58L1669.46 313.68L1664.26 319.78L1659.06 313.68Z" fill="#fff" stroke="#767676" stroke-width="2" stroke-linejoin="miter"/>
<path d="M1660.63 313.2L1665.83 319.3L1660.63 325.4L1655.43 319.3Z" fill="#fff" stroke="#767676" stroke-width="2" stroke-linejoin="miter"/>
<path d="M1657 319.41L1662.2 325.51L1657 331.61L1651.8 325.51Z" fill="#fff" stroke="#767676" stroke-width="2" stroke-linejoin="miter"/>
<path d="M1653.36 325.62L1658.56 331.72L1653.36 337.82L1648.16 331.72Z" fill="#fff" stroke="#767676" stroke-width="2" stroke-linejoin="miter"/>
<path d="M1649.73 331.97L1654.93 338.07L1649.73 344.17L1644.53 338.07Z" fill="#fff" stroke="#767676" stroke-width="2" stroke-linejoin="miter"/>
<path d="M1646.1 338.56L1651.3 344.66L1646.1 350.76L1640.9 344.66Z" fill="#fff" stroke="#767676" stroke-width="2" stroke-linejoin="miter"/>
<path d="M1642.47 345.15L1647.67 351.25L1642.47 357.35L1637.27 351.25Z" fill="#fff" stroke="#767676" stroke-width="2" stroke-linejoin="miter"/>
<path d="M1638.84 351.74L1644.04 357.84L1638.84 363.94L1633.64 357.84Z" fill="#fff" stroke="#767676" stroke-width="2" stroke-linejoin="miter"/>
<path d="M1635.2 358.19L1640.4 364.29L1635.2 370.39L1630 364.29Z" fill="#fff" stroke="#767676" stroke-width="2" stroke-linejoin="miter"/>
<path d="M1631.57 364.4L1636.77 370.5L1631.57 376.6L1626.37 370.5Z" fill="#fff" stroke="#767676" stroke-width="2" stroke-linejoin="miter"/>
<path d="M1627.94 370.61L1633.14 376.71L1627.94 382.81L1622.74 376.71Z" fill="#fff" stroke="#767676" stroke-width="2" stroke-linejoin="miter"/>
<path d="M1624.31 376.46L1629.51 382.56L1624.31 388.66L1619.11 382.56Z" fill="#fff" stroke="#767676" stroke-width="2" stroke-linejoin="miter"/>
<path d="M1620.68 381.71L1625.88 387.81L1620.68 393.91L1615.48 387.81Z" fill="#fff" stroke="#767676" stroke-width="2" stroke-linejoin="miter"/>
<path d="M1617.05 386.96L1622.25 393.06L1617.05 399.16L1611.85 393.06Z" fill="#fff" stroke="#767676" stroke-width="2" stroke-linejoin="miter"/>
<path d="M1613.41 392.21L1618.61 398.31L1613.41 404.41L1608.21 398.31Z" fill="#fff" stroke="#767676" stroke-width="2" stroke-linejoin="miter"/>
<path d="M1609.78 397.46L1614.98 403.56L1609.78 409.66L1604.58 403.56Z" fill="#fff" stroke="#767676" stroke-width="2" stroke-linejoin="miter"/>
<path d="M1573.47 436.44L1578.67 442.54L1573.47 448.64L1568.27 442.54Z" fill="#fff" stroke="#767676" stroke-width="2" stroke-linejoin="miter"/>
<path d="M1537.15 464.56L1542.35 470.66L1537.15 476.76L1531.95 470.66Z" fill="#fff" stroke="#767676" stroke-width="2" stroke-linejoin="miter"/>
<path d="M1500.83 487.57L1506.03 493.67L1500.83 499.77L1495.63 493.67Z" fill="#fff" stroke="#767676" stroke-width="2" stroke-linejoin="miter"/>
<path d="M1464.51 507.97L1469.71 514.07L1464.51 520.17L1459.31 514.07Z" fill="#fff" stroke="#767676" stroke-width="2" stroke-linejoin="miter"/>
<path d="M1428.2 526.32L1433.4 532.42L1428.2 538.52L1423 532.42Z" fill="#fff" stroke="#767676" stroke-width="2" stroke-linejoin="miter"/>
<path d="M1391.88 542.17L1397.08 548.27L1391.88 554.37L1386.68 548.27Z" fill="#fff" stroke="#767676" stroke-width="2" stroke-linejoin="miter"/>
<path d="M1355.56 557.51L1360.76 563.61L1355.56 569.71L1350.36 563.61Z" fill="#fff" stroke="#767676" stroke-width="2" stroke-linejoin="miter"/>
<path d="M1319.24 571.31L1324.44 577.41L1319.24 583.51L1314.04 577.41Z" fill="#fff" stroke="#767676" stroke-width="2" stroke-linejoin="miter"/>
<path d="M1282.93 583.07L1288.13 589.17L1282.93 595.27L1277.73 589.17Z" fill="#fff" stroke="#767676" stroke-width="2" stroke-linejoin="miter"/>
<path d="M1319.24 571.31L1324.44 577.41L1319.24 583.51L1314.04 577.41Z" fill="#fff" stroke="#767676" stroke-width="2" stroke-linejoin="miter"/>
<path d="M1355.56 557.51L1360.76 563.61L1355.56 569.71L1350.36 563.61Z" fill="#fff" stroke="#767676" stroke-width="2" stroke-linejoin="miter"/>
<path d="M1391.88 542.17L1397.08 548.27L1391.88 554.37L1386.68 548.27Z" fill="#fff" stroke="#767676" stroke-width="2" stroke-linejoin="miter"/>
<path d="M1428.2 526.32L1433.4 532.42L1428.2 538.52L1423 532.42Z" fill="#fff" stroke="#767676" stroke-width="2" stroke-linejoin="miter"/>
<path d="M1464.51 507.97L1469.71 514.07L1464.51 520.17L1459.31 514.07Z" fill="#fff" stroke="#767676" stroke-width="2" stroke-linejoin="miter"/>
<path d="M1500.83 487.57L1506.03 493.67L1500.83 499.77L1495.63 493.67Z" fill="#fff" stroke="#767676" stroke-width="2" stroke-linejoin="miter"/>
<path d="M1537.15 464.56L1542.35 470.66L1537.15 476.76L1531.95 470.66Z" fill="#fff" stroke="#767676" stroke-width="2" stroke-linejoin="miter"/>
<path d="M1573.47 436.44L1578.67 442.54L1573.47 448.64L1568.27 442.54Z" fill="#fff" stroke="#767676" stroke-width="2" stroke-linejoin="miter"/>
<path d="M1609.78 402.93L1614.98 409.03L1609.78 415.13L1604.58 409.03Z" fill="#fff" stroke="#767676" stroke-width="2" stroke-linejoin="miter"/>
<path d="M1613.41 398.72L1618.61 404.82L1613.41 410.92L1608.21 404.82Z" fill="#fff" stroke="#767676" stroke-width="2" stroke-linejoin="miter"/>
<path d="M1617.05 393.47L1622.25 399.57L1617.05 405.67L1611.85 399.57Z" fill="#fff" stroke="#767676" stroke-width="2" stroke-linejoin="miter"/>
<path d="M1620.68 388.22L1625.88 394.32L1620.68 400.42L1615.48 394.32Z" fill="#fff" stroke="#767676" stroke-width="2" stroke-linejoin="miter"/>
<path d="M1624.31 382.97L1629.51 389.07L1624.31 395.17L1619.11 389.07Z" fill="#fff" stroke="#767676" stroke-width="2" stroke-linejoin="miter"/>
<path d="M1627.94 377.72L1633.14 383.82L1627.94 389.92L1622.74 383.82Z" fill="#fff" stroke="#767676" stroke-width="2" stroke-linejoin="miter"/>
<path d="M1631.57 372.1L1636.77 378.2L1631.57 384.3L1626.37 378.2Z" fill="#fff" stroke="#767676" stroke-width="2" stroke-linejoin="miter"/>
<path d="M1635.2 365.89L1640.4 371.99L1635.2 378.09L1630 371.99Z" fill="#fff" stroke="#767676" stroke-width="2" stroke-linejoin="miter"/>
<path d="M1638.84 359.68L1644.04 365.78L1638.84 371.88L1633.64 365.78Z" fill="#fff" stroke="#767676" stroke-width="2" stroke-linejoin="miter"/>
<path d="M1642.47 353.33L1647.67 359.43L1642.47 365.53L1637.27 359.43Z" fill="#fff" stroke="#767676" stroke-width="2" stroke-linejoin="miter"/>
<path d="M1646.1 346.74L1651.3 352.84L1646.1 358.94L1640.9 352.84Z" fill="#fff" stroke="#767676" stroke-width="2" stroke-linejoin="miter"/>
<path d="M1649.73 340.15L1654.93 346.25L1649.73 352.35L1644.53 346.25Z" fill="#fff" stroke="#767676" stroke-width="2" stroke-linejoin="miter"/>
<path d="M1653.36 333.56L1658.56 339.66L1653.36 345.76L1648.16 339.66Z" fill="#fff" stroke="#767676" stroke-width="2" stroke-linejoin="miter"/>
<path d="M1657 327.11L1662.2 333.21L1657 339.31L1651.8 333.21Z" fill="#fff" stroke="#767676" stroke-width="2" stroke-linejoin="miter"/>
<path d="M1660.63 320.9L1665.83 327L1660.63 333.1L1655.43 327Z" fill="#fff" stroke="#767676" stroke-width="2" stroke-linejoin="miter"/>
<path d="M1664.26 314.69L1669.46 320.79L1664.26 326.89L1659.06 320.79Z" fill="#fff" stroke="#767676" stroke-width="2" stroke-linejoin="miter"/>
<path d="M1667.89 308.84L1673.09 314.94L1667.89 321.04L1662.69 314.94Z" fill="#fff" stroke="#767676" stroke-width="2" stroke-linejoin="miter"/>
<path d="M1671.52 303.59L1676.72 309.69L1671.52 315.79L1666.32 309.69Z" fill="#fff" stroke="#767676" stroke-width="2" stroke-linejoin="miter"/>
<path d="M1675.15 298.34L1680.35 304.44L1675.15 310.54L1669.95 304.44Z" fill="#fff" stroke="#767676" stroke-width="2" stroke-linejoin="miter"/>
<path d="M1678.79 293.09L1683.99 299.19L1678.79 305.29L1673.59 299.19Z" fill="#fff" stroke="#767676" stroke-width="2" stroke-linejoin="miter"/>
<path d="M1682.42 287.84L1687.62 293.94L1682.42 300.04L1677.22 293.94Z" fill="#fff" stroke="#767676" stroke-width="2" stroke-linejoin="miter"/>
<path d="M1718.73 248.86L1723.93 254.96L1718.73 261.06L1713.53 254.96Z" fill="#fff" stroke="#767676" stroke-width="2" stroke-linejoin="miter"/>
<path d="M1755.05 220.74L1760.25 226.84L1755.05 232.94L1749.85 226.84Z" fill="#fff" stroke="#767676" stroke-width="2" stroke-linejoin="miter"/>
<path d="M1791.37 197.73L1796.57 203.83L1791.37 209.93L1786.17 203.83Z" fill="#fff" stroke="#767676" stroke-width="2" stroke-linejoin="miter"/>
<path d="M1827.69 177.33L1832.89 183.43L1827.69 189.53L1822.49 183.43Z" fill="#fff" stroke="#767676" stroke-width="2" stroke-linejoin="miter"/>
<path d="M1864 158.98L1869.2 165.08L1864 171.18L1858.8 165.08Z" fill="#fff" stroke="#767676" stroke-width="2" stroke-linejoin="miter"/>
<path d="M1900.32 143.13L1905.52 149.23L1900.32 155.33L1895.12 149.23Z" fill="#fff" stroke="#767676" stroke-width="2" stroke-linejoin="miter"/>
<path d="M1936.64 127.79L1941.84 133.89L1936.64 139.99L1931.44 133.89Z" fill="#fff" stroke="#767676" stroke-width="2" stroke-linejoin="miter"/>
<path d="M1972.96 113.99L1978.16 120.09L1972.96 126.19L1967.76 120.09Z" fill="#fff" stroke="#767676" stroke-width="2" stroke-linejoin="miter"/>
<path d="M2009.27 102.23L2014.47 108.33L2009.27 114.43L2004.07 108.33Z" fill="#fff" stroke="#767676" stroke-width="2" stroke-linejoin="miter"/>
</g>
<path d="M1356.72 632.8v-15M1356.72 64.7v15M1501.41 632.8v-15M1501.41 64.7v15M1646.1 632.8v-15M1646.1 64.7v15M1790.79 632.8v-15M1790.79 64.7v15M1935.48 632.8v-15M1935.48 64.7v15M1284.37 632.8v-7.5M1284.37 64.7v7.5M1429.06 632.8v-7.5M1429.06 64.7v7.5M1573.75 632.8v-7.5M1573.75 64.7v7.5M1718.45 632.8v-7.5M1718.45 64.7v7.5M1863.14 632.8v-7.5M1863.14 64.7v7.5M2007.83 632.8v-7.5M2007.83 64.7v7.5M1248.2 575.99h15M2044 575.99h-15M1248.2 462.37h15M2044 462.37h-15M1248.2 348.75h15M2044 348.75h-15M1248.2 235.13h15M2044 235.13h-15M1248.2 121.51h15M2044 121.51h-15M1248.2 519.18h7.5M2044 519.18h-7.5M1248.2 405.56h7.5M2044 405.56h-7.5M1248.2 291.94h7.5M2044 291.94h-7.5M1248.2 178.32h7.5M2044 178.32h-7.5" stroke="#000" stroke-width="2.2" fill="none"/>
<rect x="1248.2" y="64.7" width="795.8" height="568.1" fill="none" stroke="#000" stroke-width="2.4"/>
<text x="1356.72" y="676.8" font-size="34.5" text-anchor="middle" style="font-family:'Liberation Sans',Arial,sans-serif" >-40</text>
<text x="1501.41" y="676.8" font-size="34.5" text-anchor="middle" style="font-family:'Liberation Sans',Arial,sans-serif" >-20</text>
<text x="1646.1" y="676.8" font-size="34.5" text-anchor="middle" style="font-family:'Liberation Sans',Arial,sans-serif" >0</text>
<text x="1790.79" y="676.8" font-size="34.5" text-anchor="middle" style="font-family:'Liberation Sans',Arial,sans-serif" >20</text>
<text x="1935.48" y="676.8" font-size="34.5" text-anchor="middle" style="font-family:'Liberation Sans',Arial,sans-serif" >40</text>
<text x="1231.2" y="586.99" font-size="34.5" text-anchor="end" style="font-family:'Liberation Sans',Arial,sans-serif" >-4000</text>
<text x="1231.2" y="473.37" font-size="34.5" text-anchor="end" style="font-family:'Liberation Sans',Arial,sans-serif" >-2000</text>
<text x="1231.2" y="359.75" font-size="34.5" text-anchor="end" style="font-family:'Liberation Sans',Arial,sans-serif" >0</text>
<text x="1231.2" y="246.13" font-size="34.5" text-anchor="end" style="font-family:'Liberation Sans',Arial,sans-serif" >2000</text>
<text x="1231.2" y="132.51" font-size="34.5" text-anchor="end" style="font-family:'Liberation Sans',Arial,sans-serif" >4000</text>
<path d="M1323.5 133.3H1403" stroke="#bebebe" stroke-width="2"/>
<path d="M1362.9 126.6L1369.4 133.6L1362.9 140.6L1356.4 133.6Z" fill="#fff" stroke="#bebebe" stroke-width="2" stroke-linejoin="miter"/>
<path d="M1323.5 177.5H1403" stroke="#767676" stroke-width="2"/>
<path d="M1362.9 170.5L1369.4 177.5L1362.9 184.5L1356.4 177.5Z" fill="#fff" stroke="#767676" stroke-width="2" stroke-linejoin="miter"/>
<text x="1411.5" y="144.8" font-size="34.5" text-anchor="start" style="font-family:'Liberation Sans',Arial,sans-serif" >300 K</text>
<text x="1411.5" y="189.7" font-size="34.5" text-anchor="start" style="font-family:'Liberation Sans',Arial,sans-serif" >2 K</text>
<text transform="translate(1123.9 349.5) rotate(-90)" font-size="45.5" text-anchor="middle" style="font-family:'Liberation Sans',Arial,sans-serif">Magnetization / emu mol<tspan font-size="30" dy="-19">-1</tspan></text>
<text x="1646.1" y="744.4" font-size="45.5" text-anchor="middle" style="font-family:'Liberation Sans',Arial,sans-serif" >Magnetic Field / kOe</text>
<rect x="1745.3" y="390.8" width="242.4" height="170.9" fill="#fff"/>
<defs><clipPath id="cbi"><rect x="1745.3" y="390.8" width="242.4" height="170.9"/></clipPath></defs>
<g clip-path="url(#cbi)">
<path d="M1715 479.84 L1745.3 479.46 L1775.6 479.09 L1805.9 478.71 L1836.2 478.33 L1866.5 477.96 L1896.8 477.58 L1927.1 477.21 L1957.4 476.83 L1987.7 476.46 L2018 476.08" fill="none" stroke="#bebebe" stroke-width="2.2" stroke-linejoin="round"/>
<path d="M1715 473.59L1720.25 479.84L1715 486.09L1709.75 479.84Z" fill="#fff" stroke="#bebebe" stroke-width="2" stroke-linejoin="miter"/>
<path d="M1745.3 473.21L1750.55 479.46L1745.3 485.71L1740.05 479.46Z" fill="#fff" stroke="#bebebe" stroke-width="2" stroke-linejoin="miter"/>
<path d="M1775.6 472.84L1780.85 479.09L1775.6 485.34L1770.35 479.09Z" fill="#fff" stroke="#bebebe" stroke-width="2" stroke-linejoin="miter"/>
<path d="M1805.9 472.46L1811.15 478.71L1805.9 484.96L1800.65 478.71Z" fill="#fff" stroke="#bebebe" stroke-width="2" stroke-linejoin="miter"/>
<path d="M1836.2 472.08L1841.45 478.33L1836.2 484.58L1830.95 478.33Z" fill="#fff" stroke="#bebebe" stroke-width="2" stroke-linejoin="miter"/>
<path d="M1866.5 471.71L1871.75 477.96L1866.5 484.21L1861.25 477.96Z" fill="#fff" stroke="#bebebe" stroke-width="2" stroke-linejoin="miter"/>
<path d="M1896.8 471.33L1902.05 477.58L1896.8 483.83L1891.55 477.58Z" fill="#fff" stroke="#bebebe" stroke-width="2" stroke-linejoin="miter"/>
<path d="M1927.1 470.96L1932.35 477.21L1927.1 483.46L1921.85 477.21Z" fill="#fff" stroke="#bebebe" stroke-width="2" stroke-linejoin="miter"/>
<path d="M1957.4 470.58L1962.65 476.83L1957.4 483.08L1952.15 476.83Z" fill="#fff" stroke="#bebebe" stroke-width="2" stroke-linejoin="miter"/>
<path d="M1987.7 470.21L1992.95 476.46L1987.7 482.71L1982.45 476.46Z" fill="#fff" stroke="#bebebe" stroke-width="2" stroke-linejoin="miter"/>
<path d="M2018 469.83L2023.25 476.08L2018 482.33L2012.75 476.08Z" fill="#fff" stroke="#bebebe" stroke-width="2" stroke-linejoin="miter"/>
</g>
<g clip-path="url(#cbi)">
<path d="M1745.3 631.77 L1775.6 578.79 L1805.9 535.04 L1836.2 493 L1866.5 451.13 L1896.8 410.62 L1927.1 368.58" fill="none" stroke="#767676" stroke-width="1.7" stroke-linejoin="round"/>
<path d="M1745.3 625.97L1750.7 631.77L1745.3 637.57L1739.9 631.77Z" fill="#fff" stroke="#767676" stroke-width="2.3" stroke-linejoin="miter"/>
<path d="M1775.6 572.99L1781 578.79L1775.6 584.59L1770.2 578.79Z" fill="#fff" stroke="#767676" stroke-width="2.3" stroke-linejoin="miter"/>
<path d="M1805.9 529.24L1811.3 535.04L1805.9 540.84L1800.5 535.04Z" fill="#fff" stroke="#767676" stroke-width="2.3" stroke-linejoin="miter"/>
<path d="M1836.2 487.2L1841.6 493L1836.2 498.8L1830.8 493Z" fill="#fff" stroke="#767676" stroke-width="2.3" stroke-linejoin="miter"/>
<path d="M1866.5 445.33L1871.9 451.13L1866.5 456.93L1861.1 451.13Z" fill="#fff" stroke="#767676" stroke-width="2.3" stroke-linejoin="miter"/>
<path d="M1896.8 404.82L1902.2 410.62L1896.8 416.42L1891.4 410.62Z" fill="#fff" stroke="#767676" stroke-width="2.3" stroke-linejoin="miter"/>
<path d="M1927.1 362.78L1932.5 368.58L1927.1 374.38L1921.7 368.58Z" fill="#fff" stroke="#767676" stroke-width="2.3" stroke-linejoin="miter"/>
</g>
<g clip-path="url(#cbi)">
<path d="M1866.5 470.2 L1896.8 436.26 L1927.1 398.46 L1957.4 360.04" fill="none" stroke="#767676" stroke-width="1.7" stroke-linejoin="round"/>
<path d="M1866.5 464.4L1871.9 470.2L1866.5 476L1861.1 470.2Z" fill="#fff" stroke="#767676" stroke-width="2.3" stroke-linejoin="miter"/>
<path d="M1896.8 430.46L1902.2 436.26L1896.8 442.06L1891.4 436.26Z" fill="#fff" stroke="#767676" stroke-width="2.3" stroke-linejoin="miter"/>
<path d="M1927.1 392.66L1932.5 398.46L1927.1 404.26L1921.7 398.46Z" fill="#fff" stroke="#767676" stroke-width="2.3" stroke-linejoin="miter"/>
<path d="M1957.4 354.24L1962.8 360.04L1957.4 365.84L1952 360.04Z" fill="#fff" stroke="#767676" stroke-width="2.3" stroke-linejoin="miter"/>
</g>
<g clip-path="url(#cbi)">
<path d="M1805.9 589.04 L1836.2 544.27 L1866.5 504.14 L1896.8 462.03 L1927.1 419.17 L1957.4 377.13" fill="none" stroke="#767676" stroke-width="1.7" stroke-linejoin="round"/>
<path d="M1805.9 583.24L1811.3 589.04L1805.9 594.84L1800.5 589.04Z" fill="#fff" stroke="#767676" stroke-width="2.3" stroke-linejoin="miter"/>
<path d="M1836.2 538.47L1841.6 544.27L1836.2 550.07L1830.8 544.27Z" fill="#fff" stroke="#767676" stroke-width="2.3" stroke-linejoin="miter"/>
<path d="M1866.5 498.34L1871.9 504.14L1866.5 509.94L1861.1 504.14Z" fill="#fff" stroke="#767676" stroke-width="2.3" stroke-linejoin="miter"/>
<path d="M1896.8 456.23L1902.2 462.03L1896.8 467.83L1891.4 462.03Z" fill="#fff" stroke="#767676" stroke-width="2.3" stroke-linejoin="miter"/>
<path d="M1927.1 413.37L1932.5 419.17L1927.1 424.97L1921.7 419.17Z" fill="#fff" stroke="#767676" stroke-width="2.3" stroke-linejoin="miter"/>
<path d="M1957.4 371.33L1962.8 377.13L1957.4 382.93L1952 377.13Z" fill="#fff" stroke="#767676" stroke-width="2.3" stroke-linejoin="miter"/>
</g>
<path d="M1745.3 561.7v-15M1745.3 390.8v15M1805.9 561.7v-15M1805.9 390.8v15M1866.5 561.7v-15M1866.5 390.8v15M1927.1 561.7v-15M1927.1 390.8v15M1987.7 561.7v-15M1987.7 390.8v15M1775.6 561.7v-7.5M1775.6 390.8v7.5M1836.2 561.7v-7.5M1836.2 390.8v7.5M1896.8 561.7v-7.5M1896.8 390.8v7.5M1957.4 561.7v-7.5M1957.4 390.8v7.5M1745.3 544.61h15M1987.7 544.61h-15M1745.3 476.25h15M1987.7 476.25h-15M1745.3 407.89h15M1987.7 407.89h-15M1745.3 510.43h7.5M1987.7 510.43h-7.5M1745.3 442.07h7.5M1987.7 442.07h-7.5" stroke="#000" stroke-width="2.2" fill="none"/>
<rect x="1745.3" y="390.8" width="242.4" height="170.9" fill="none" stroke="#000" stroke-width="2.4"/>
<text x="1745.3" y="603.7" font-size="34.5" text-anchor="middle" style="font-family:'Liberation Sans',Arial,sans-serif" >-2</text>
<text x="1805.9" y="603.7" font-size="34.5" text-anchor="middle" style="font-family:'Liberation Sans',Arial,sans-serif" >-1</text>
<text x="1866.5" y="603.7" font-size="34.5" text-anchor="middle" style="font-family:'Liberation Sans',Arial,sans-serif" >0</text>
<text x="1927.1" y="603.7" font-size="34.5" text-anchor="middle" style="font-family:'Liberation Sans',Arial,sans-serif" >1</text>
<text x="1987.7" y="603.7" font-size="34.5" text-anchor="middle" style="font-family:'Liberation Sans',Arial,sans-serif" >2</text>
<text x="1728.3" y="555.61" font-size="34.5" text-anchor="end" style="font-family:'Liberation Sans',Arial,sans-serif" >-200</text>
<text x="1728.3" y="487.25" font-size="34.5" text-anchor="end" style="font-family:'Liberation Sans',Arial,sans-serif" >0</text>
<text x="1728.3" y="418.89" font-size="34.5" text-anchor="end" style="font-family:'Liberation Sans',Arial,sans-serif" >200</text>
<defs><clipPath id="cc"><rect x="195.5" y="790" width="795.8" height="567.9"/></clipPath></defs>
<path d="M197.5 1312.5H985.3" stroke="#bdbdbd" stroke-width="2" stroke-dasharray="6 6.1"/>
<g fill="#1e9fd7" clip-path="url(#cc)"><circle cx="256.89" cy="1299.77" r="5.7"/><circle cx="259.16" cy="1299.7" r="5.7"/><circle cx="261.44" cy="1299.64" r="5.7"/><circle cx="263.71" cy="1299.57" r="5.7"/><circle cx="265.99" cy="1299.51" r="5.7"/><circle cx="268.26" cy="1299.45" r="5.7"/><circle cx="270.53" cy="1299.38" r="5.7"/><circle cx="272.81" cy="1299.32" r="5.7"/><circle cx="275.08" cy="1299.25" r="5.7"/><circle cx="277.35" cy="1299.06" r="5.7"/><circle cx="279.63" cy="1298.86" r="5.7"/><circle cx="281.9" cy="1298.66" r="5.7"/><circle cx="284.17" cy="1298.47" r="5.7"/><circle cx="286.45" cy="1298.27" r="5.7"/><circle cx="288.72" cy="1298.07" r="5.7"/><circle cx="291" cy="1297.88" r="5.7"/><circle cx="293.27" cy="1297.68" r="5.7"/><circle cx="295.54" cy="1297.49" r="5.7"/><circle cx="297.82" cy="1297.29" r="5.7"/><circle cx="300.09" cy="1296.89" r="5.7"/><circle cx="302.36" cy="1296.48" r="5.7"/><circle cx="304.64" cy="1296.08" r="5.7"/><circle cx="306.91" cy="1295.68" r="5.7"/><circle cx="309.19" cy="1295.28" r="5.7"/><circle cx="311.46" cy="1294.87" r="5.7"/><circle cx="313.73" cy="1294.47" r="5.7"/><circle cx="316.01" cy="1294.07" r="5.7"/><circle cx="318.28" cy="1293.67" r="5.7"/><circle cx="320.55" cy="1293.26" r="5.7"/><circle cx="322.83" cy="1292.64" r="5.7"/><circle cx="325.1" cy="1292.02" r="5.7"/><circle cx="327.38" cy="1291.4" r="5.7"/><circle cx="329.65" cy="1290.78" r="5.7"/><circle cx="331.92" cy="1290.17" r="5.7"/><circle cx="334.2" cy="1289.55" r="5.7"/><circle cx="336.47" cy="1288.93" r="5.7"/><circle cx="338.74" cy="1288.31" r="5.7"/><circle cx="341.02" cy="1287.69" r="5.7"/><circle cx="343.29" cy="1287.07" r="5.7"/><circle cx="345.57" cy="1286.2" r="5.7"/><circle cx="347.84" cy="1285.33" r="5.7"/><circle cx="350.11" cy="1284.47" r="5.7"/><circle cx="352.39" cy="1283.6" r="5.7"/><circle cx="354.66" cy="1282.73" r="5.7"/><circle cx="356.93" cy="1281.86" r="5.7"/><circle cx="359.21" cy="1281" r="5.7"/><circle cx="361.48" cy="1280.13" r="5.7"/><circle cx="363.75" cy="1279.26" r="5.7"/><circle cx="366.03" cy="1278.39" r="5.7"/><circle cx="377.62" cy="1273.64" r="5.7"/><circle cx="396.72" cy="1264.97" r="5.7"/><circle cx="409.36" cy="1257.26" r="5.7"/><circle cx="421.99" cy="1249.55" r="5.7"/><circle cx="434.63" cy="1241.83" r="5.7"/><circle cx="447.27" cy="1233.36" r="5.7"/><circle cx="459.9" cy="1224.48" r="5.7"/><circle cx="472.54" cy="1215.61" r="5.7"/><circle cx="485.17" cy="1206.73" r="5.7"/><circle cx="497.81" cy="1198.02" r="5.7"/><circle cx="510.44" cy="1189.4" r="5.7"/><circle cx="523.08" cy="1180.78" r="5.7"/><circle cx="535.71" cy="1172.16" r="5.7"/><circle cx="548.35" cy="1163.13" r="5.7"/><circle cx="560.98" cy="1153.87" r="5.7"/><circle cx="573.62" cy="1144.61" r="5.7"/><circle cx="586.25" cy="1135.34" r="5.7"/><circle cx="598.89" cy="1125.74" r="5.7"/><circle cx="611.52" cy="1115.93" r="5.7"/><circle cx="624.16" cy="1106.12" r="5.7"/><circle cx="636.8" cy="1096.31" r="5.7"/><circle cx="649.43" cy="1086.59" r="5.7"/><circle cx="662.07" cy="1076.98" r="5.7"/><circle cx="674.7" cy="1067.37" r="5.7"/><circle cx="687.34" cy="1057.77" r="5.7"/><circle cx="699.97" cy="1047.95" r="5.7"/><circle cx="712.61" cy="1038" r="5.7"/><circle cx="725.24" cy="1028.04" r="5.7"/><circle cx="737.88" cy="1018.08" r="5.7"/><circle cx="750.51" cy="1008.12" r="5.7"/><circle cx="763.15" cy="998.16" r="5.7"/><circle cx="775.78" cy="988.21" r="5.7"/><circle cx="788.42" cy="977.81" r="5.7"/><circle cx="801.06" cy="967.29" r="5.7"/><circle cx="813.69" cy="956.78" r="5.7"/><circle cx="826.33" cy="946.26" r="5.7"/><circle cx="838.96" cy="936.75" r="5.7"/><circle cx="851.6" cy="927.48" r="5.7"/><circle cx="864.23" cy="918.21" r="5.7"/><circle cx="876.87" cy="908.94" r="5.7"/><circle cx="889.5" cy="899.04" r="5.7"/><circle cx="902.14" cy="888.85" r="5.7"/><circle cx="914.77" cy="878.66" r="5.7"/><circle cx="927.41" cy="868.47" r="5.7"/><circle cx="934.68" cy="861.45" r="5.7"/></g>
<g fill="#5faf1e" clip-path="url(#cc)"><circle cx="256.89" cy="1299.04" r="5.7"/><circle cx="259.16" cy="1298.95" r="5.7"/><circle cx="261.44" cy="1298.86" r="5.7"/><circle cx="263.71" cy="1298.77" r="5.7"/><circle cx="265.99" cy="1298.68" r="5.7"/><circle cx="268.26" cy="1298.59" r="5.7"/><circle cx="270.53" cy="1298.5" r="5.7"/><circle cx="272.81" cy="1298.41" r="5.7"/><circle cx="275.08" cy="1298.32" r="5.7"/><circle cx="277.35" cy="1298.04" r="5.7"/><circle cx="279.63" cy="1297.76" r="5.7"/><circle cx="281.9" cy="1297.49" r="5.7"/><circle cx="284.17" cy="1297.21" r="5.7"/><circle cx="286.45" cy="1296.93" r="5.7"/><circle cx="288.72" cy="1296.65" r="5.7"/><circle cx="291" cy="1296.37" r="5.7"/><circle cx="293.27" cy="1296.09" r="5.7"/><circle cx="295.54" cy="1295.81" r="5.7"/><circle cx="297.82" cy="1295.53" r="5.7"/><circle cx="300.09" cy="1295.02" r="5.7"/><circle cx="302.36" cy="1294.5" r="5.7"/><circle cx="304.64" cy="1293.99" r="5.7"/><circle cx="306.91" cy="1293.47" r="5.7"/><circle cx="309.19" cy="1292.95" r="5.7"/><circle cx="311.46" cy="1292.44" r="5.7"/><circle cx="313.73" cy="1291.92" r="5.7"/><circle cx="316.01" cy="1291.4" r="5.7"/><circle cx="318.28" cy="1290.89" r="5.7"/><circle cx="320.55" cy="1290.37" r="5.7"/><circle cx="322.83" cy="1289.61" r="5.7"/><circle cx="325.1" cy="1288.84" r="5.7"/><circle cx="327.38" cy="1288.08" r="5.7"/><circle cx="329.65" cy="1287.32" r="5.7"/><circle cx="331.92" cy="1286.55" r="5.7"/><circle cx="334.2" cy="1285.79" r="5.7"/><circle cx="336.47" cy="1285.02" r="5.7"/><circle cx="338.74" cy="1284.26" r="5.7"/><circle cx="341.02" cy="1283.49" r="5.7"/><circle cx="343.29" cy="1282.73" r="5.7"/><circle cx="345.57" cy="1281.68" r="5.7"/><circle cx="347.84" cy="1280.62" r="5.7"/><circle cx="350.11" cy="1279.57" r="5.7"/><circle cx="352.39" cy="1278.52" r="5.7"/><circle cx="354.66" cy="1277.46" r="5.7"/><circle cx="356.93" cy="1276.41" r="5.7"/><circle cx="359.21" cy="1275.36" r="5.7"/><circle cx="361.48" cy="1274.31" r="5.7"/><circle cx="363.75" cy="1273.25" r="5.7"/><circle cx="366.03" cy="1272.2" r="5.7"/><circle cx="377.62" cy="1266.64" r="5.7"/><circle cx="396.72" cy="1258.98" r="5.7"/><circle cx="409.36" cy="1251.39" r="5.7"/><circle cx="421.99" cy="1243.8" r="5.7"/><circle cx="434.63" cy="1236.22" r="5.7"/><circle cx="447.27" cy="1228" r="5.7"/><circle cx="459.9" cy="1219.46" r="5.7"/><circle cx="472.54" cy="1210.92" r="5.7"/><circle cx="485.17" cy="1202.38" r="5.7"/><circle cx="497.81" cy="1193.98" r="5.7"/><circle cx="510.44" cy="1185.67" r="5.7"/><circle cx="523.08" cy="1177.36" r="5.7"/><circle cx="535.71" cy="1169.05" r="5.7"/><circle cx="548.35" cy="1160.3" r="5.7"/><circle cx="560.98" cy="1151.3" r="5.7"/><circle cx="573.62" cy="1142.29" r="5.7"/><circle cx="586.25" cy="1133.28" r="5.7"/><circle cx="598.89" cy="1123.89" r="5.7"/><circle cx="611.52" cy="1114.25" r="5.7"/><circle cx="624.16" cy="1104.61" r="5.7"/><circle cx="636.8" cy="1094.98" r="5.7"/><circle cx="649.43" cy="1085.46" r="5.7"/><circle cx="662.07" cy="1076.09" r="5.7"/><circle cx="674.7" cy="1066.73" r="5.7"/><circle cx="687.34" cy="1057.36" r="5.7"/><circle cx="699.97" cy="1047.88" r="5.7"/><circle cx="712.61" cy="1038.33" r="5.7"/><circle cx="725.24" cy="1028.78" r="5.7"/><circle cx="737.88" cy="1019.51" r="5.7"/><circle cx="750.51" cy="1010.49" r="5.7"/><circle cx="763.15" cy="1001.47" r="5.7"/><circle cx="775.78" cy="992.45" r="5.7"/><circle cx="788.42" cy="983.07" r="5.7"/><circle cx="801.06" cy="973.37" r="5.7"/><circle cx="813.69" cy="963.68" r="5.7"/><circle cx="826.33" cy="953.98" r="5.7"/><circle cx="838.96" cy="944.67" r="5.7"/><circle cx="851.6" cy="935.63" r="5.7"/><circle cx="864.23" cy="926.58" r="5.7"/><circle cx="876.87" cy="917.53" r="5.7"/><circle cx="889.5" cy="908.41" r="5.7"/><circle cx="902.14" cy="899.23" r="5.7"/><circle cx="914.77" cy="890.04" r="5.7"/><circle cx="927.41" cy="880.86" r="5.7"/><circle cx="934.68" cy="874.15" r="5.7"/></g>
<g fill="#c8001e" clip-path="url(#cc)"><circle cx="256.89" cy="1297.6" r="5.7"/><circle cx="259.16" cy="1297.48" r="5.7"/><circle cx="261.44" cy="1297.37" r="5.7"/><circle cx="263.71" cy="1297.25" r="5.7"/><circle cx="265.99" cy="1297.13" r="5.7"/><circle cx="268.26" cy="1297.02" r="5.7"/><circle cx="270.53" cy="1296.9" r="5.7"/><circle cx="272.81" cy="1296.79" r="5.7"/><circle cx="275.08" cy="1296.67" r="5.7"/><circle cx="277.35" cy="1296.28" r="5.7"/><circle cx="279.63" cy="1295.89" r="5.7"/><circle cx="281.9" cy="1295.49" r="5.7"/><circle cx="284.17" cy="1295.1" r="5.7"/><circle cx="286.45" cy="1294.71" r="5.7"/><circle cx="288.72" cy="1294.32" r="5.7"/><circle cx="291" cy="1293.92" r="5.7"/><circle cx="293.27" cy="1293.53" r="5.7"/><circle cx="295.54" cy="1293.14" r="5.7"/><circle cx="297.82" cy="1292.75" r="5.7"/><circle cx="300.09" cy="1292.09" r="5.7"/><circle cx="302.36" cy="1291.42" r="5.7"/><circle cx="304.64" cy="1290.76" r="5.7"/><circle cx="306.91" cy="1290.1" r="5.7"/><circle cx="309.19" cy="1289.44" r="5.7"/><circle cx="311.46" cy="1288.78" r="5.7"/><circle cx="313.73" cy="1288.12" r="5.7"/><circle cx="316.01" cy="1287.46" r="5.7"/><circle cx="318.28" cy="1286.8" r="5.7"/><circle cx="320.55" cy="1286.14" r="5.7"/><circle cx="322.83" cy="1285.21" r="5.7"/><circle cx="325.1" cy="1284.28" r="5.7"/><circle cx="327.38" cy="1283.35" r="5.7"/><circle cx="329.65" cy="1282.42" r="5.7"/><circle cx="331.92" cy="1281.49" r="5.7"/><circle cx="334.2" cy="1280.56" r="5.7"/><circle cx="336.47" cy="1279.63" r="5.7"/><circle cx="338.74" cy="1278.7" r="5.7"/><circle cx="341.02" cy="1277.77" r="5.7"/><circle cx="343.29" cy="1276.85" r="5.7"/><circle cx="345.57" cy="1275.63" r="5.7"/><circle cx="347.84" cy="1274.41" r="5.7"/><circle cx="350.11" cy="1273.19" r="5.7"/><circle cx="352.39" cy="1271.97" r="5.7"/><circle cx="354.66" cy="1270.75" r="5.7"/><circle cx="356.93" cy="1269.53" r="5.7"/><circle cx="359.21" cy="1268.32" r="5.7"/><circle cx="361.48" cy="1267.1" r="5.7"/><circle cx="363.75" cy="1265.88" r="5.7"/><circle cx="366.03" cy="1264.66" r="5.7"/><circle cx="377.62" cy="1257.95" r="5.7"/><circle cx="396.72" cy="1248.14" r="5.7"/><circle cx="409.36" cy="1239.83" r="5.7"/><circle cx="421.99" cy="1231.52" r="5.7"/><circle cx="434.63" cy="1223.21" r="5.7"/><circle cx="447.27" cy="1214.3" r="5.7"/><circle cx="459.9" cy="1205.12" r="5.7"/><circle cx="472.54" cy="1195.95" r="5.7"/><circle cx="485.17" cy="1186.78" r="5.7"/><circle cx="497.81" cy="1177.63" r="5.7"/><circle cx="510.44" cy="1168.47" r="5.7"/><circle cx="523.08" cy="1159.32" r="5.7"/><circle cx="535.71" cy="1150.16" r="5.7"/><circle cx="548.35" cy="1140.56" r="5.7"/><circle cx="560.98" cy="1130.84" r="5.7"/><circle cx="573.62" cy="1121.13" r="5.7"/><circle cx="586.25" cy="1111.42" r="5.7"/><circle cx="598.89" cy="1101.49" r="5.7"/><circle cx="611.52" cy="1091.54" r="5.7"/><circle cx="624.16" cy="1081.58" r="5.7"/><circle cx="636.8" cy="1071.63" r="5.7"/><circle cx="649.43" cy="1061.65" r="5.7"/><circle cx="662.07" cy="1051.67" r="5.7"/><circle cx="674.7" cy="1041.69" r="5.7"/><circle cx="687.34" cy="1031.7" r="5.7"/><circle cx="699.97" cy="1021.93" r="5.7"/><circle cx="712.61" cy="1012.24" r="5.7"/><circle cx="725.24" cy="1002.55" r="5.7"/><circle cx="737.88" cy="992.86" r="5.7"/><circle cx="750.51" cy="983.1" r="5.7"/><circle cx="763.15" cy="973.31" r="5.7"/><circle cx="775.78" cy="963.53" r="5.7"/><circle cx="788.42" cy="953.74" r="5.7"/><circle cx="801.06" cy="943.46" r="5.7"/><circle cx="813.69" cy="933.08" r="5.7"/><circle cx="826.33" cy="922.7" r="5.7"/><circle cx="838.96" cy="912.32" r="5.7"/><circle cx="851.6" cy="902.39" r="5.7"/><circle cx="864.23" cy="892.52" r="5.7"/><circle cx="876.87" cy="882.65" r="5.7"/><circle cx="889.5" cy="872.78" r="5.7"/><circle cx="902.14" cy="863.11" r="5.7"/><circle cx="914.77" cy="853.45" r="5.7"/><circle cx="927.41" cy="843.8" r="5.7"/><circle cx="934.68" cy="833.88" r="5.7"/></g>
<path d="M270.83 1357.9L934.46 835.03" stroke="#c8001e" stroke-width="2.4" stroke-dasharray="3 2.9" clip-path="url(#cc)"/>
<path d="M282.09 1357.9L934.46 872.04" stroke="#5faf1e" stroke-width="2.4" stroke-dasharray="3 2.9" clip-path="url(#cc)"/>
<path d="M303.03 1357.9L934.46 858.97" stroke="#1e9fd7" stroke-width="2.4" stroke-dasharray="3 2.9" clip-path="url(#cc)"/>
<path d="M368 1296.06L378.25 1313.22L357.75 1313.22Z" fill="#fff" stroke="#1e9fd7" stroke-width="4.3" stroke-linejoin="miter"/>
<path d="M350.6 1296.87L361.93 1307.8L350.6 1318.73L339.27 1307.8Z" fill="#fff" stroke="#5faf1e" stroke-width="4.2" stroke-linejoin="miter"/>
<polygon points="335.6,1297.07 344.75,1301.99 344.75,1311.82 335.6,1316.73 326.45,1311.82 326.45,1301.99" fill="#fff" stroke="#c8001e" stroke-width="4.7"/>
<path d="M252.34 1357.9v-15M252.34 790v15M366.03 1357.9v-15M366.03 790v15M479.71 1357.9v-15M479.71 790v15M593.4 1357.9v-15M593.4 790v15M707.09 1357.9v-15M707.09 790v15M820.77 1357.9v-15M820.77 790v15M934.46 1357.9v-15M934.46 790v15M195.5 1357.9v-7.5M195.5 790v7.5M309.19 1357.9v-7.5M309.19 790v7.5M422.87 1357.9v-7.5M422.87 790v7.5M536.56 1357.9v-7.5M536.56 790v7.5M650.24 1357.9v-7.5M650.24 790v7.5M763.93 1357.9v-7.5M763.93 790v7.5M877.61 1357.9v-7.5M877.61 790v7.5M991.3 1357.9v-7.5M991.3 790v7.5M195.5 1306.27h15M991.3 1306.27h-15M195.5 1203.02h15M991.3 1203.02h-15M195.5 1099.76h15M991.3 1099.76h-15M195.5 996.51h15M991.3 996.51h-15M195.5 893.25h15M991.3 893.25h-15M195.5 790h15M991.3 790h-15M195.5 1357.9h7.5M991.3 1357.9h-7.5M195.5 1254.65h7.5M991.3 1254.65h-7.5M195.5 1151.39h7.5M991.3 1151.39h-7.5M195.5 1048.14h7.5M991.3 1048.14h-7.5M195.5 944.88h7.5M991.3 944.88h-7.5M195.5 841.63h7.5M991.3 841.63h-7.5" stroke="#000" stroke-width="2.2" fill="none"/>
<rect x="195.5" y="790" width="795.8" height="567.9" fill="none" stroke="#000" stroke-width="2.4"/>
<text x="252.34" y="1402.7" font-size="34.5" text-anchor="middle" style="font-family:'Liberation Sans',Arial,sans-serif" >0</text>
<text x="366.03" y="1402.7" font-size="34.5" text-anchor="middle" style="font-family:'Liberation Sans',Arial,sans-serif" >50</text>
<text x="479.71" y="1402.7" font-size="34.5" text-anchor="middle" style="font-family:'Liberation Sans',Arial,sans-serif" >100</text>
<text x="593.4" y="1402.7" font-size="34.5" text-anchor="middle" style="font-family:'Liberation Sans',Arial,sans-serif" >150</text>
<text x="707.09" y="1402.7" font-size="34.5" text-anchor="middle" style="font-family:'Liberation Sans',Arial,sans-serif" >200</text>
<text x="820.77" y="1402.7" font-size="34.5" text-anchor="middle" style="font-family:'Liberation Sans',Arial,sans-serif" >250</text>
<text x="934.46" y="1402.7" font-size="34.5" text-anchor="middle" style="font-family:'Liberation Sans',Arial,sans-serif" >300</text>
<text x="178.5" y="1315.27" font-size="34.5" text-anchor="end" style="font-family:'Liberation Sans',Arial,sans-serif" >0</text>
<text x="178.5" y="1212.02" font-size="34.5" text-anchor="end" style="font-family:'Liberation Sans',Arial,sans-serif" >100</text>
<text x="178.5" y="1108.76" font-size="34.5" text-anchor="end" style="font-family:'Liberation Sans',Arial,sans-serif" >200</text>
<text x="178.5" y="1005.51" font-size="34.5" text-anchor="end" style="font-family:'Liberation Sans',Arial,sans-serif" >300</text>
<text x="178.5" y="902.25" font-size="34.5" text-anchor="end" style="font-family:'Liberation Sans',Arial,sans-serif" >400</text>
<text x="178.5" y="799" font-size="34.5" text-anchor="end" style="font-family:'Liberation Sans',Arial,sans-serif" >500</text>
<path d="M526.6 1270.2L443 1287.8" stroke="#000" stroke-width="2.3"/>
<path d="M426.9 1291.5L442.8 1279.1L446.6 1296.4Z" fill="#000"/>
<text x="652.8" y="1205.2" font-size="45.5" text-anchor="middle" style="font-family:'Liberation Sans',Arial,sans-serif" >Weiss</text>
<text x="550.6" y="1264.9" font-size="45.5" style="font-family:'Liberation Sans',Arial,sans-serif">Constant</text>
<text transform="translate(748.4 1264.9) scale(1.29 0.93)" font-size="45.5" style="font-family:'Liberation Serif','Times New Roman',serif;font-style:italic">&#952;</text>
<text transform="translate(37.4 1072.3) rotate(-90)" font-size="45.5" text-anchor="middle" style="font-family:'Liberation Sans',Arial,sans-serif">Inverse Magnetic</text>
<text transform="translate(101.8 1074.3) rotate(-90)" font-size="45.5" text-anchor="middle" style="font-family:'Liberation Sans',Arial,sans-serif">Susceptibility <tspan style="font-family:'Liberation Serif','Times New Roman',serif;font-style:italic">&#967;</tspan><tspan font-size="30" dy="-19">-1</tspan><tspan dy="19"> / g emu</tspan><tspan font-size="30" dy="-19">-1</tspan></text>
<text x="592.8" y="1470.5" font-size="45.8" text-anchor="middle" style="font-family:'Liberation Sans',Arial,sans-serif" >Temperature / K</text>
<rect x="337" y="831.7" width="242.6" height="170.5" fill="#fff"/>
<defs><clipPath id="cci"><rect x="337" y="831.7" width="242.6" height="170.5"/></clipPath></defs>
<path d="M352.6 917.5H565" stroke="#bdbdbd" stroke-width="2" stroke-dasharray="7.5 7"/>
<path d="M341.93 1010.73L444.47 823.18" stroke="#c8001e" stroke-width="2.4" stroke-dasharray="2.6 4" clip-path="url(#cci)"/>
<path d="M392.5 1010.73L500.98 823.18" stroke="#5faf1e" stroke-width="2.4" stroke-dasharray="2.6 4" clip-path="url(#cci)"/>
<path d="M455.94 1010.73L558.19 823.18" stroke="#1e9fd7" stroke-width="2.4" stroke-dasharray="2.6 4" clip-path="url(#cci)"/>
<polygon points="392.9,907.81 402.75,912.8 402.75,922.79 392.9,927.79 383.05,922.79 383.05,912.8" fill="#fff" stroke="#c8001e" stroke-width="4.6"/>
<path d="M445.7 906.8L457.3 918.2L445.7 929.6L434.1 918.2Z" fill="#fff" stroke="#5faf1e" stroke-width="4.1" stroke-linejoin="miter"/>
<path d="M506.8 906.79L517.04 924.55L496.56 924.55Z" fill="#fff" stroke="#1e9fd7" stroke-width="4.3" stroke-linejoin="miter"/>
<path d="M337 1002.2v-15M337 831.7v15M417.87 1002.2v-15M417.87 831.7v15M498.73 1002.2v-15M498.73 831.7v15M579.6 1002.2v-15M579.6 831.7v15M377.43 1002.2v-7.5M377.43 831.7v7.5M458.3 1002.2v-7.5M458.3 831.7v7.5M539.17 1002.2v-7.5M539.17 831.7v7.5M337 980.89h15M579.6 980.89h-15M337 916.95h15M579.6 916.95h-15M337 853.01h15M579.6 853.01h-15" stroke="#000" stroke-width="2.2" fill="none"/>
<rect x="337" y="831.7" width="242.6" height="170.5" fill="none" stroke="#000" stroke-width="2.4"/>
<text x="337" y="1046.2" font-size="34.5" text-anchor="middle" style="font-family:'Liberation Sans',Arial,sans-serif" >30</text>
<text x="417.87" y="1046.2" font-size="34.5" text-anchor="middle" style="font-family:'Liberation Sans',Arial,sans-serif" >40</text>
<text x="498.73" y="1046.2" font-size="34.5" text-anchor="middle" style="font-family:'Liberation Sans',Arial,sans-serif" >50</text>
<text x="579.6" y="1046.2" font-size="34.5" text-anchor="middle" style="font-family:'Liberation Sans',Arial,sans-serif" >60</text>
<text x="320" y="991.39" font-size="34.5" text-anchor="end" style="font-family:'Liberation Sans',Arial,sans-serif" >-7.5</text>
<text x="320" y="927.45" font-size="34.5" text-anchor="end" style="font-family:'Liberation Sans',Arial,sans-serif" >0.0</text>
<text x="320" y="863.51" font-size="34.5" text-anchor="end" style="font-family:'Liberation Sans',Arial,sans-serif" >7.5</text>
<defs><clipPath id="cd"><rect x="1248" y="789.7" width="796.1" height="567.8"/></clipPath></defs>
<path d="M1351.5 1176H1479.3 M1351.5 1169.75v12.5 M1479.3 1169.75v12.5" stroke="#5faf1e" stroke-width="2.2" fill="none"/>
<path d="M1362.4 1166.2H1484.8 M1362.4 1159.95v12.5 M1484.8 1159.95v12.5" stroke="#c8001e" stroke-width="2.2" fill="none"/>
<path d="M1428.3 1157.5H1545.8 M1428.3 1151.25v12.5 M1545.8 1151.25v12.5" stroke="#c8001e" stroke-width="2.2" fill="none"/>
<path d="M1343.1 1246.7H1466.2 M1343.1 1240.45v12.5 M1466.2 1240.45v12.5" stroke="#1e9fd7" stroke-width="2.2" fill="none"/>
<path d="M1472.9 1105.2H1596.2 M1472.9 1098.95v12.5 M1596.2 1098.95v12.5" stroke="#1e9fd7" stroke-width="2.2" fill="none"/>
<path d="M1515.7 1105.2H1638.6 M1515.7 1098.95v12.5 M1638.6 1098.95v12.5" stroke="#c8001e" stroke-width="2.2" fill="none"/>
<path d="M1505.7 1061H1626.8 M1505.7 1054.75v12.5 M1626.8 1054.75v12.5" stroke="#5faf1e" stroke-width="2.2" fill="none"/>
<path d="M1561.2 1071H1683.2 M1561.2 1064.75v12.5 M1683.2 1064.75v12.5" stroke="#5faf1e" stroke-width="2.2" fill="none"/>
<path d="M1715.1 937.8H1837 M1715.1 931.55v12.5 M1837 931.55v12.5" stroke="#1e9fd7" stroke-width="2.2" fill="none"/>
<path d="M1783.9 878.7H1900.9 M1783.9 872.45v12.5 M1900.9 872.45v12.5" stroke="#5faf1e" stroke-width="2.2" fill="none"/>
<path d="M1845.1 858.4H1962.4 M1845.1 852.15v12.5 M1962.4 852.15v12.5" stroke="#c8001e" stroke-width="2.2" fill="none"/>
<path d="M1829.6 905.7H1956.3 M1829.6 899.45v12.5 M1956.3 899.45v12.5" stroke="#1e9fd7" stroke-width="2.2" fill="none"/>
<polygon points="1414.6,1166.51 1424.15,1171.26 1424.15,1180.74 1414.6,1185.49 1405.05,1180.74 1405.05,1171.26" fill="#fff" stroke="#5faf1e" stroke-width="4.6"/>
<polygon points="1422.6,1156.71 1432.15,1161.46 1432.15,1170.94 1422.6,1175.69 1413.05,1170.94 1413.05,1161.46" fill="#fff" stroke="#c8001e" stroke-width="4.6"/>
<polygon points="1486.6,1148.01 1496.15,1152.76 1496.15,1162.24 1486.6,1166.99 1477.05,1162.24 1477.05,1152.76" fill="#c8001e" stroke="#c8001e" stroke-width="4.6"/>
<polygon points="1404.7,1237.21 1414.25,1241.96 1414.25,1251.44 1404.7,1256.19 1395.15,1251.44 1395.15,1241.96" fill="#fff" stroke="#1e9fd7" stroke-width="4.6"/>
<path d="M1534.3 1093.53L1545.87 1105.2L1534.3 1116.87L1522.73 1105.2Z" fill="#fff" stroke="#1e9fd7" stroke-width="4" stroke-linejoin="miter"/>
<path d="M1577.6 1093.53L1589.17 1105.2L1577.6 1116.87L1566.03 1105.2Z" fill="#fff" stroke="#c8001e" stroke-width="4" stroke-linejoin="miter"/>
<path d="M1566.3 1049.33L1577.87 1061L1566.3 1072.67L1554.73 1061Z" fill="#fff" stroke="#5faf1e" stroke-width="4" stroke-linejoin="miter"/>
<path d="M1623.2 1059.33L1634.77 1071L1623.2 1082.67L1611.63 1071Z" fill="#5faf1e" stroke="#5faf1e" stroke-width="4" stroke-linejoin="miter"/>
<path d="M1777.4 927.68L1787.45 943.75L1767.36 943.75Z" fill="#fff" stroke="#1e9fd7" stroke-width="4.3" stroke-linejoin="miter"/>
<path d="M1843.4 868.59L1853.45 884.65L1833.36 884.65Z" fill="#fff" stroke="#5faf1e" stroke-width="4.3" stroke-linejoin="miter"/>
<path d="M1903.6 848.28L1913.64 864.35L1893.55 864.35Z" fill="#fff" stroke="#c8001e" stroke-width="4.3" stroke-linejoin="miter"/>
<path d="M1894.1 895.59L1904.14 911.65L1884.05 911.65Z" fill="#1e9fd7" stroke="#1e9fd7" stroke-width="4.3" stroke-linejoin="miter"/>
<path d="M1248 1309.21L2013.63 791.7" stroke="#808080" stroke-width="3.8" stroke-dasharray="6 5.6" clip-path="url(#cd)"/>
<path d="M1248 1357.5v-15M1248 789.7v15M1380.68 1357.5v-15M1380.68 789.7v15M1513.37 1357.5v-15M1513.37 789.7v15M1646.05 1357.5v-15M1646.05 789.7v15M1778.73 1357.5v-15M1778.73 789.7v15M1911.42 1357.5v-15M1911.42 789.7v15M2044.1 1357.5v-15M2044.1 789.7v15M1314.34 1357.5v-7.5M1314.34 789.7v7.5M1447.03 1357.5v-7.5M1447.03 789.7v7.5M1579.71 1357.5v-7.5M1579.71 789.7v7.5M1712.39 1357.5v-7.5M1712.39 789.7v7.5M1845.07 1357.5v-7.5M1845.07 789.7v7.5M1977.76 1357.5v-7.5M1977.76 789.7v7.5M1248 1276.39h15M2044.1 1276.39h-15M1248 1114.16h15M2044.1 1114.16h-15M1248 951.93h15M2044.1 951.93h-15M1248 789.7h15M2044.1 789.7h-15M1248 1195.27h7.5M2044.1 1195.27h-7.5M1248 1033.04h7.5M2044.1 1033.04h-7.5M1248 870.81h7.5M2044.1 870.81h-7.5" stroke="#000" stroke-width="2.2" fill="none"/>
<rect x="1248" y="789.7" width="796.1" height="567.8" fill="none" stroke="#000" stroke-width="2.4"/>
<text x="1248" y="1403" font-size="34.5" text-anchor="middle" style="font-family:'Liberation Sans',Arial,sans-serif" >1.0</text>
<text x="1380.68" y="1403" font-size="34.5" text-anchor="middle" style="font-family:'Liberation Sans',Arial,sans-serif" >1.5</text>
<text x="1513.37" y="1403" font-size="34.5" text-anchor="middle" style="font-family:'Liberation Sans',Arial,sans-serif" >2.0</text>
<text x="1646.05" y="1403" font-size="34.5" text-anchor="middle" style="font-family:'Liberation Sans',Arial,sans-serif" >2.5</text>
<text x="1778.73" y="1403" font-size="34.5" text-anchor="middle" style="font-family:'Liberation Sans',Arial,sans-serif" >3.0</text>
<text x="1911.42" y="1403" font-size="34.5" text-anchor="middle" style="font-family:'Liberation Sans',Arial,sans-serif" >3.5</text>
<text x="2044.1" y="1403" font-size="34.5" text-anchor="middle" style="font-family:'Liberation Sans',Arial,sans-serif" >4.0</text>
<text x="1231" y="1285.99" font-size="34.5" text-anchor="end" style="font-family:'Liberation Sans',Arial,sans-serif" >30</text>
<text x="1231" y="1123.76" font-size="34.5" text-anchor="end" style="font-family:'Liberation Sans',Arial,sans-serif" >40</text>
<text x="1231" y="961.53" font-size="34.5" text-anchor="end" style="font-family:'Liberation Sans',Arial,sans-serif" >50</text>
<text x="1231" y="799.3" font-size="34.5" text-anchor="end" style="font-family:'Liberation Sans',Arial,sans-serif" >60</text>
<rect x="1656.2" y="1177.5" width="326.8" height="102.3" fill="#fff" stroke="#000" stroke-width="2.4"/>
<text transform="translate(1663.4 1216.8) scale(1.39 0.97)" font-size="34.5" style="font-family:'Liberation Serif','Times New Roman',serif;font-style:italic">&#952;</text>
<text x="1690.5" y="1216.8" font-size="34.5" font-weight="bold" style="font-family:'Liberation Sans',Arial,sans-serif">=</text>
<text x="1721.5" y="1216.8" font-size="34.5" style="font-family:'Liberation Sans',Arial,sans-serif">17(2)</text>
<text x="1809.5" y="1216.8" font-size="34.5" style="font-family:'Liberation Sans',Arial,sans-serif">+</text>
<text x="1841" y="1216.8" font-size="34.5" style="font-family:'Liberation Sans',Arial,sans-serif" letter-spacing="0.7">11.1(7)</text>
<text x="1960.5" y="1216.8" font-size="34.5" font-weight="bold" font-style="italic" style="font-family:'Liberation Sans',Arial,sans-serif">z</text>
<text x="1664.3" y="1265.9" font-size="34" style="font-family:'Liberation Sans',Arial,sans-serif"><tspan font-weight="bold">R</tspan><tspan font-size="23" dy="-14">2</tspan><tspan dy="14"> = 0.963</tspan></text>
<text transform="translate(1173.7 1282.5) rotate(-90)" font-size="45.5" style="font-family:'Liberation Sans',Arial,sans-serif">Weiss Constant</text>
<text transform="translate(1173.7 950.1) rotate(-90) scale(1.2 0.94)" font-size="45.5" style="font-family:'Liberation Serif','Times New Roman',serif;font-style:italic">&#952;</text>
<text transform="translate(1173.7 918.8) rotate(-90)" font-size="45.5" style="font-family:'Liberation Sans',Arial,sans-serif">/ K</text>
<text x="1645.4" y="1470.4" font-size="45.5" text-anchor="middle" style="font-family:'Liberation Sans',Arial,sans-serif" >Ni Occupancy on Li site / %</text>
</svg></body></html>
